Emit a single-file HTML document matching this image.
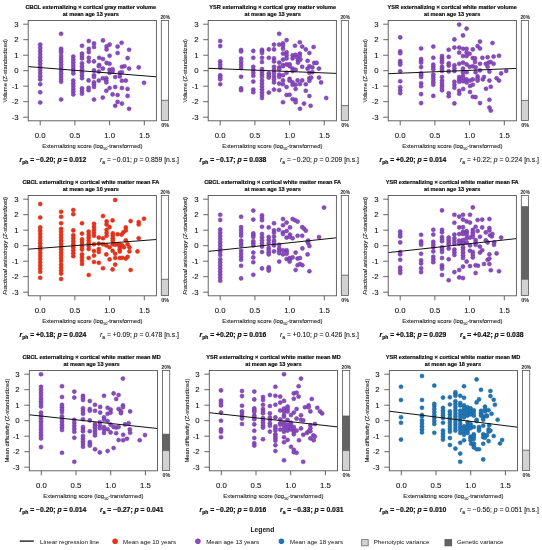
<!DOCTYPE html><html><head><meta charset="utf-8"><style>html,body{margin:0;padding:0;background:#fff;}svg{display:block;filter:blur(0.3px);} .t{stroke:#000;stroke-width:0.18px;} .k{stroke:#111;stroke-width:0.08px;}</style></head><body><svg width="542" height="550" viewBox="0 0 542 550" font-family="&quot;Liberation Sans&quot;, sans-serif">
<rect width="542" height="550" fill="#fff"/>
<g><text x="90.8" y="9.3" font-size="5.6" font-weight="bold" text-anchor="middle" fill="#111" class="t">CBCL externalizing × cortical gray matter volume</text><text x="90.8" y="16.1" font-size="5.6" font-weight="bold" text-anchor="middle" fill="#111" class="t">at mean age 13 years</text><g fill="#8a4bc0" stroke="#6a339a" stroke-width="0.45"><circle cx="40.2" cy="44.6" r="2.05"/><circle cx="40.2" cy="47.8" r="2.05"/><circle cx="40.2" cy="50.9" r="2.05"/><circle cx="40.2" cy="54.1" r="2.05"/><circle cx="40.2" cy="57.3" r="2.05"/><circle cx="40.2" cy="60.4" r="2.05"/><circle cx="40.2" cy="63.6" r="2.05"/><circle cx="40.2" cy="66.7" r="2.05"/><circle cx="40.2" cy="69.9" r="2.05"/><circle cx="40.2" cy="73.1" r="2.05"/><circle cx="40.2" cy="76.2" r="2.05"/><circle cx="40.2" cy="79.4" r="2.05"/><circle cx="40.2" cy="84.2" r="2.05"/><circle cx="40.2" cy="92.3" r="2.05"/><circle cx="40.2" cy="102.5" r="2.05"/><circle cx="61.1" cy="33.8" r="2.05"/><circle cx="61.1" cy="48.8" r="2.05"/><circle cx="61.1" cy="50.6" r="2.05"/><circle cx="61.1" cy="52.4" r="2.05"/><circle cx="61.1" cy="56.0" r="2.05"/><circle cx="61.1" cy="58.9" r="2.05"/><circle cx="61.1" cy="61.7" r="2.05"/><circle cx="61.1" cy="64.6" r="2.05"/><circle cx="61.1" cy="67.5" r="2.05"/><circle cx="61.1" cy="70.3" r="2.05"/><circle cx="61.1" cy="73.2" r="2.05"/><circle cx="61.1" cy="76.1" r="2.05"/><circle cx="61.1" cy="78.9" r="2.05"/><circle cx="61.1" cy="81.8" r="2.05"/><circle cx="61.1" cy="99.5" r="2.05"/><circle cx="73.3" cy="56.6" r="2.05"/><circle cx="73.3" cy="59.4" r="2.05"/><circle cx="73.3" cy="62.2" r="2.05"/><circle cx="73.3" cy="65.0" r="2.05"/><circle cx="73.3" cy="67.8" r="2.05"/><circle cx="73.3" cy="70.6" r="2.05"/><circle cx="73.3" cy="73.4" r="2.05"/><circle cx="73.3" cy="80.6" r="2.05"/><circle cx="73.3" cy="83.4" r="2.05"/><circle cx="73.3" cy="86.1" r="2.05"/><circle cx="73.3" cy="88.9" r="2.05"/><circle cx="73.3" cy="91.6" r="2.05"/><circle cx="73.3" cy="94.4" r="2.05"/><circle cx="82.0" cy="45.8" r="2.05"/><circle cx="82.0" cy="53.6" r="2.05"/><circle cx="82.0" cy="56.0" r="2.05"/><circle cx="82.0" cy="58.4" r="2.05"/><circle cx="82.0" cy="63.2" r="2.05"/><circle cx="82.0" cy="66.2" r="2.05"/><circle cx="82.0" cy="69.2" r="2.05"/><circle cx="82.0" cy="72.2" r="2.05"/><circle cx="82.0" cy="75.2" r="2.05"/><circle cx="82.0" cy="78.2" r="2.05"/><circle cx="82.0" cy="88.4" r="2.05"/><circle cx="82.0" cy="91.1" r="2.05"/><circle cx="82.0" cy="93.8" r="2.05"/><circle cx="88.8" cy="41.0" r="2.05"/><circle cx="88.8" cy="48.8" r="2.05"/><circle cx="88.8" cy="52.1" r="2.05"/><circle cx="88.8" cy="57.8" r="2.05"/><circle cx="88.8" cy="61.4" r="2.05"/><circle cx="88.6" cy="80.4" r="2.05"/><circle cx="88.6" cy="87.8" r="2.05"/><circle cx="88.6" cy="90.2" r="2.05"/><circle cx="94.0" cy="43.4" r="2.05"/><circle cx="94.0" cy="47.0" r="2.05"/><circle cx="94.0" cy="61.4" r="2.05"/><circle cx="94.0" cy="70.4" r="2.05"/><circle cx="94.0" cy="75.2" r="2.05"/><circle cx="94.0" cy="77.0" r="2.05"/><circle cx="94.0" cy="82.4" r="2.05"/><circle cx="94.0" cy="84.2" r="2.05"/><circle cx="94.0" cy="87.0" r="2.05"/><circle cx="94.0" cy="99.5" r="2.05"/><circle cx="99.2" cy="57.8" r="2.05"/><circle cx="99.2" cy="65.0" r="2.05"/><circle cx="98.8" cy="66.2" r="2.05"/><circle cx="98.8" cy="71.6" r="2.05"/><circle cx="98.8" cy="80.6" r="2.05"/><circle cx="103.0" cy="40.4" r="2.05"/><circle cx="103.0" cy="59.0" r="2.05"/><circle cx="102.8" cy="68.6" r="2.05"/><circle cx="102.8" cy="78.2" r="2.05"/><circle cx="102.8" cy="97.6" r="2.05"/><circle cx="106.6" cy="46.4" r="2.05"/><circle cx="106.6" cy="49.4" r="2.05"/><circle cx="106.6" cy="62.9" r="2.05"/><circle cx="106.3" cy="78.2" r="2.05"/><circle cx="106.3" cy="80.6" r="2.05"/><circle cx="106.3" cy="82.4" r="2.05"/><circle cx="106.3" cy="90.8" r="2.05"/><circle cx="109.6" cy="44.6" r="2.05"/><circle cx="109.6" cy="55.7" r="2.05"/><circle cx="109.6" cy="63.8" r="2.05"/><circle cx="109.6" cy="69.8" r="2.05"/><circle cx="109.6" cy="72.8" r="2.05"/><circle cx="109.6" cy="88.0" r="2.05"/><circle cx="112.6" cy="69.2" r="2.05"/><circle cx="112.6" cy="71.6" r="2.05"/><circle cx="112.6" cy="94.4" r="2.05"/><circle cx="115.2" cy="77.0" r="2.05"/><circle cx="115.2" cy="87.0" r="2.05"/><circle cx="115.2" cy="105.8" r="2.05"/><circle cx="117.6" cy="46.6" r="2.05"/><circle cx="117.6" cy="53.0" r="2.05"/><circle cx="117.6" cy="95.0" r="2.05"/><circle cx="117.6" cy="101.9" r="2.05"/><circle cx="119.8" cy="72.8" r="2.05"/><circle cx="119.8" cy="76.4" r="2.05"/><circle cx="121.6" cy="42.8" r="2.05"/><circle cx="121.9" cy="66.8" r="2.05"/><circle cx="121.9" cy="72.2" r="2.05"/><circle cx="121.9" cy="80.8" r="2.05"/><circle cx="121.9" cy="88.0" r="2.05"/><circle cx="121.9" cy="103.6" r="2.05"/><circle cx="124.5" cy="66.2" r="2.05"/><circle cx="125.8" cy="80.6" r="2.05"/><circle cx="127.6" cy="58.1" r="2.05"/><circle cx="127.6" cy="89.0" r="2.05"/><circle cx="127.6" cy="95.9" r="2.05"/><circle cx="129.1" cy="49.7" r="2.05"/><circle cx="129.1" cy="68.6" r="2.05"/><circle cx="129.1" cy="108.8" r="2.05"/><circle cx="138.7" cy="67.4" r="2.05"/><circle cx="144.0" cy="82.8" r="2.05"/></g><line x1="28.2" y1="66.6" x2="156.4" y2="76.8" stroke="#111" stroke-width="1"/><rect x="28.2" y="20.5" width="128.2" height="100.3" fill="none" stroke="#555" stroke-width="0.9"/><line x1="23.2" y1="117.2" x2="28.2" y2="117.2" stroke="#555" stroke-width="0.9"/><text x="18.6" y="119.8" font-size="7.8" text-anchor="end" fill="#111" class="k">-3</text><line x1="23.2" y1="101.7" x2="28.2" y2="101.7" stroke="#555" stroke-width="0.9"/><text x="18.6" y="104.2" font-size="7.8" text-anchor="end" fill="#111" class="k">-2</text><line x1="23.2" y1="86.2" x2="28.2" y2="86.2" stroke="#555" stroke-width="0.9"/><text x="18.6" y="88.8" font-size="7.8" text-anchor="end" fill="#111" class="k">-1</text><line x1="23.2" y1="70.7" x2="28.2" y2="70.7" stroke="#555" stroke-width="0.9"/><text x="18.6" y="73.2" font-size="7.8" text-anchor="end" fill="#111" class="k">0</text><line x1="23.2" y1="55.2" x2="28.2" y2="55.2" stroke="#555" stroke-width="0.9"/><text x="18.6" y="57.8" font-size="7.8" text-anchor="end" fill="#111" class="k">1</text><line x1="23.2" y1="39.7" x2="28.2" y2="39.7" stroke="#555" stroke-width="0.9"/><text x="18.6" y="42.2" font-size="7.8" text-anchor="end" fill="#111" class="k">2</text><line x1="23.2" y1="24.2" x2="28.2" y2="24.2" stroke="#555" stroke-width="0.9"/><text x="18.6" y="26.8" font-size="7.8" text-anchor="end" fill="#111" class="k">3</text><line x1="40.2" y1="120.8" x2="40.2" y2="125.3" stroke="#555" stroke-width="0.9"/><text x="40.2" y="137.5" font-size="7.8" text-anchor="middle" fill="#111" class="k">0.0</text><line x1="74.9" y1="120.8" x2="74.9" y2="125.3" stroke="#555" stroke-width="0.9"/><text x="74.9" y="137.5" font-size="7.8" text-anchor="middle" fill="#111" class="k">0.5</text><line x1="109.6" y1="120.8" x2="109.6" y2="125.3" stroke="#555" stroke-width="0.9"/><text x="109.6" y="137.5" font-size="7.8" text-anchor="middle" fill="#111" class="k">1.0</text><line x1="144.3" y1="120.8" x2="144.3" y2="125.3" stroke="#555" stroke-width="0.9"/><text x="144.3" y="137.5" font-size="7.8" text-anchor="middle" fill="#111" class="k">1.5</text><text x="92.3" y="148.2" font-size="5.85" text-anchor="middle" fill="#222" class="k">Externalizing score (log<tspan font-size="3.8" dy="1.3">10</tspan><tspan dy="-1.3">-transformed)</tspan></text><text transform="translate(7.4,70.7) rotate(-90)" font-size="5.8" text-anchor="middle" fill="#222" class="k">Volume (Z-standardized)</text><text x="19.6" y="161.9" font-size="6.8" font-weight="bold" fill="#111" class="t"><tspan font-style="italic">r</tspan><tspan font-size="5" dy="2.0">ph</tspan><tspan dy="-2.0"> = −0.20; </tspan><tspan font-style="italic">p</tspan><tspan> = 0.012</tspan></text><text x="100.0" y="161.9" font-size="6.8" font-weight="normal" fill="#111" class="k"><tspan font-style="italic">r</tspan><tspan font-size="5" dy="2.0">a</tspan><tspan dy="-2.0"> = −0.01; </tspan><tspan font-style="italic">p</tspan><tspan> = 0.859 [n.s.]</tspan></text><rect x="161.3" y="100.3" width="7.3" height="20.1" fill="#d2d2d2"/><line x1="161.3" y1="100.3" x2="168.6" y2="100.3" stroke="#555" stroke-width="0.8"/><rect x="161.3" y="20.4" width="7.3" height="100.0" fill="none" stroke="#555" stroke-width="0.8"/><text x="165.2" y="18.7" font-size="5.4" font-weight="bold" text-anchor="middle" fill="#222" textLength="9.6" lengthAdjust="spacingAndGlyphs">20%</text><text x="165.2" y="127.2" font-size="5.4" font-weight="bold" text-anchor="middle" fill="#222">0%</text></g>
<g><text x="272.7" y="9.3" font-size="5.6" font-weight="bold" text-anchor="middle" fill="#111" class="t">YSR externalizing × cortical gray matter volume</text><text x="272.7" y="16.1" font-size="5.6" font-weight="bold" text-anchor="middle" fill="#111" class="t">at mean age 13 years</text><g fill="#8a4bc0" stroke="#6a339a" stroke-width="0.45"><circle cx="220.2" cy="41.0" r="2.05"/><circle cx="220.2" cy="46.1" r="2.05"/><circle cx="220.2" cy="61.4" r="2.05"/><circle cx="220.2" cy="64.4" r="2.05"/><circle cx="220.2" cy="67.4" r="2.05"/><circle cx="241.1" cy="50.0" r="2.05"/><circle cx="241.1" cy="51.4" r="2.05"/><circle cx="241.1" cy="58.6" r="2.05"/><circle cx="241.1" cy="61.7" r="2.05"/><circle cx="241.1" cy="64.9" r="2.05"/><circle cx="241.1" cy="68.0" r="2.05"/><circle cx="253.3" cy="50.9" r="2.05"/><circle cx="253.3" cy="57.8" r="2.05"/><circle cx="262.0" cy="49.7" r="2.05"/><circle cx="262.0" cy="51.4" r="2.05"/><circle cx="262.0" cy="53.0" r="2.05"/><circle cx="262.0" cy="57.8" r="2.05"/><circle cx="262.0" cy="62.0" r="2.05"/><circle cx="268.8" cy="49.4" r="2.05"/><circle cx="268.8" cy="57.8" r="2.05"/><circle cx="274.0" cy="44.6" r="2.05"/><circle cx="274.0" cy="49.4" r="2.05"/><circle cx="274.0" cy="58.4" r="2.05"/><circle cx="274.0" cy="61.4" r="2.05"/><circle cx="279.2" cy="33.8" r="2.05"/><circle cx="279.2" cy="44.6" r="2.05"/><circle cx="279.2" cy="62.6" r="2.05"/><circle cx="283.0" cy="43.4" r="2.05"/><circle cx="283.0" cy="45.8" r="2.05"/><circle cx="283.0" cy="48.8" r="2.05"/><circle cx="283.0" cy="53.6" r="2.05"/><circle cx="283.0" cy="59.6" r="2.05"/><circle cx="283.0" cy="65.0" r="2.05"/><circle cx="286.6" cy="40.1" r="2.05"/><circle cx="286.6" cy="52.4" r="2.05"/><circle cx="286.6" cy="55.4" r="2.05"/><circle cx="286.6" cy="58.4" r="2.05"/><circle cx="286.6" cy="64.4" r="2.05"/><circle cx="289.6" cy="64.4" r="2.05"/><circle cx="292.6" cy="55.4" r="2.05"/><circle cx="292.6" cy="58.4" r="2.05"/><circle cx="295.0" cy="45.8" r="2.05"/><circle cx="295.6" cy="54.8" r="2.05"/><circle cx="296.8" cy="57.2" r="2.05"/><circle cx="298.0" cy="60.8" r="2.05"/><circle cx="298.0" cy="62.6" r="2.05"/><circle cx="299.8" cy="42.2" r="2.05"/><circle cx="299.8" cy="53.6" r="2.05"/><circle cx="299.8" cy="56.0" r="2.05"/><circle cx="300.4" cy="59.6" r="2.05"/><circle cx="302.2" cy="46.6" r="2.05"/><circle cx="305.8" cy="49.4" r="2.05"/><circle cx="307.6" cy="60.8" r="2.05"/><circle cx="309.4" cy="53.0" r="2.05"/><circle cx="313.6" cy="47.0" r="2.05"/><circle cx="314.2" cy="62.9" r="2.05"/><circle cx="316.6" cy="62.9" r="2.05"/><circle cx="220.2" cy="75.2" r="2.05"/><circle cx="220.2" cy="77.2" r="2.05"/><circle cx="220.2" cy="79.2" r="2.05"/><circle cx="220.2" cy="84.2" r="2.05"/><circle cx="241.1" cy="76.8" r="2.05"/><circle cx="241.1" cy="88.4" r="2.05"/><circle cx="241.1" cy="90.2" r="2.05"/><circle cx="253.3" cy="66.8" r="2.05"/><circle cx="253.3" cy="69.8" r="2.05"/><circle cx="253.3" cy="72.8" r="2.05"/><circle cx="253.3" cy="75.8" r="2.05"/><circle cx="253.3" cy="81.6" r="2.05"/><circle cx="253.3" cy="89.6" r="2.05"/><circle cx="253.3" cy="92.3" r="2.05"/><circle cx="262.0" cy="69.0" r="2.05"/><circle cx="262.0" cy="71.7" r="2.05"/><circle cx="262.0" cy="74.3" r="2.05"/><circle cx="262.0" cy="77.0" r="2.05"/><circle cx="262.0" cy="80.6" r="2.05"/><circle cx="262.0" cy="83.5" r="2.05"/><circle cx="262.0" cy="86.4" r="2.05"/><circle cx="262.0" cy="89.3" r="2.05"/><circle cx="262.0" cy="92.2" r="2.05"/><circle cx="262.0" cy="95.1" r="2.05"/><circle cx="262.0" cy="98.0" r="2.05"/><circle cx="268.8" cy="73.4" r="2.05"/><circle cx="268.8" cy="75.5" r="2.05"/><circle cx="268.8" cy="77.6" r="2.05"/><circle cx="268.8" cy="92.6" r="2.05"/><circle cx="274.0" cy="66.8" r="2.05"/><circle cx="274.0" cy="69.9" r="2.05"/><circle cx="274.0" cy="73.0" r="2.05"/><circle cx="274.0" cy="76.2" r="2.05"/><circle cx="274.0" cy="79.3" r="2.05"/><circle cx="274.0" cy="82.4" r="2.05"/><circle cx="274.0" cy="89.6" r="2.05"/><circle cx="279.2" cy="67.4" r="2.05"/><circle cx="279.2" cy="69.2" r="2.05"/><circle cx="279.2" cy="74.6" r="2.05"/><circle cx="279.2" cy="77.0" r="2.05"/><circle cx="279.2" cy="83.6" r="2.05"/><circle cx="279.2" cy="90.2" r="2.05"/><circle cx="283.0" cy="66.2" r="2.05"/><circle cx="283.0" cy="75.2" r="2.05"/><circle cx="283.0" cy="80.4" r="2.05"/><circle cx="283.0" cy="84.2" r="2.05"/><circle cx="283.0" cy="102.2" r="2.05"/><circle cx="286.6" cy="72.8" r="2.05"/><circle cx="286.6" cy="87.0" r="2.05"/><circle cx="286.6" cy="95.0" r="2.05"/><circle cx="289.6" cy="66.2" r="2.05"/><circle cx="289.6" cy="78.8" r="2.05"/><circle cx="289.6" cy="80.6" r="2.05"/><circle cx="289.6" cy="94.7" r="2.05"/><circle cx="292.6" cy="68.6" r="2.05"/><circle cx="292.6" cy="71.0" r="2.05"/><circle cx="292.6" cy="82.4" r="2.05"/><circle cx="292.6" cy="84.8" r="2.05"/><circle cx="292.6" cy="99.2" r="2.05"/><circle cx="295.6" cy="69.8" r="2.05"/><circle cx="295.6" cy="84.8" r="2.05"/><circle cx="295.6" cy="89.0" r="2.05"/><circle cx="295.6" cy="99.8" r="2.05"/><circle cx="295.6" cy="102.2" r="2.05"/><circle cx="297.6" cy="80.4" r="2.05"/><circle cx="300.0" cy="84.0" r="2.05"/><circle cx="300.0" cy="108.8" r="2.05"/><circle cx="302.2" cy="66.8" r="2.05"/><circle cx="302.2" cy="80.4" r="2.05"/><circle cx="304.0" cy="103.6" r="2.05"/><circle cx="305.8" cy="84.2" r="2.05"/><circle cx="305.8" cy="90.8" r="2.05"/><circle cx="307.6" cy="68.6" r="2.05"/><circle cx="309.4" cy="66.2" r="2.05"/><circle cx="309.4" cy="72.8" r="2.05"/><circle cx="309.4" cy="78.2" r="2.05"/><circle cx="309.4" cy="80.8" r="2.05"/><circle cx="309.4" cy="96.0" r="2.05"/><circle cx="310.6" cy="105.8" r="2.05"/><circle cx="311.2" cy="77.6" r="2.05"/><circle cx="312.4" cy="67.4" r="2.05"/><circle cx="312.4" cy="72.2" r="2.05"/><circle cx="319.0" cy="68.6" r="2.05"/><circle cx="319.0" cy="77.6" r="2.05"/><circle cx="321.1" cy="82.4" r="2.05"/><circle cx="326.2" cy="98.0" r="2.05"/></g><line x1="208.2" y1="68.3" x2="336.4" y2="73.4" stroke="#111" stroke-width="1"/><rect x="208.2" y="20.5" width="128.2" height="100.3" fill="none" stroke="#555" stroke-width="0.9"/><line x1="203.2" y1="117.2" x2="208.2" y2="117.2" stroke="#555" stroke-width="0.9"/><text x="198.6" y="119.8" font-size="7.8" text-anchor="end" fill="#111" class="k">-3</text><line x1="203.2" y1="101.7" x2="208.2" y2="101.7" stroke="#555" stroke-width="0.9"/><text x="198.6" y="104.2" font-size="7.8" text-anchor="end" fill="#111" class="k">-2</text><line x1="203.2" y1="86.2" x2="208.2" y2="86.2" stroke="#555" stroke-width="0.9"/><text x="198.6" y="88.8" font-size="7.8" text-anchor="end" fill="#111" class="k">-1</text><line x1="203.2" y1="70.7" x2="208.2" y2="70.7" stroke="#555" stroke-width="0.9"/><text x="198.6" y="73.2" font-size="7.8" text-anchor="end" fill="#111" class="k">0</text><line x1="203.2" y1="55.2" x2="208.2" y2="55.2" stroke="#555" stroke-width="0.9"/><text x="198.6" y="57.8" font-size="7.8" text-anchor="end" fill="#111" class="k">1</text><line x1="203.2" y1="39.7" x2="208.2" y2="39.7" stroke="#555" stroke-width="0.9"/><text x="198.6" y="42.2" font-size="7.8" text-anchor="end" fill="#111" class="k">2</text><line x1="203.2" y1="24.2" x2="208.2" y2="24.2" stroke="#555" stroke-width="0.9"/><text x="198.6" y="26.8" font-size="7.8" text-anchor="end" fill="#111" class="k">3</text><line x1="220.2" y1="120.8" x2="220.2" y2="125.3" stroke="#555" stroke-width="0.9"/><text x="220.2" y="137.5" font-size="7.8" text-anchor="middle" fill="#111" class="k">0.0</text><line x1="254.9" y1="120.8" x2="254.9" y2="125.3" stroke="#555" stroke-width="0.9"/><text x="254.9" y="137.5" font-size="7.8" text-anchor="middle" fill="#111" class="k">0.5</text><line x1="289.6" y1="120.8" x2="289.6" y2="125.3" stroke="#555" stroke-width="0.9"/><text x="289.6" y="137.5" font-size="7.8" text-anchor="middle" fill="#111" class="k">1.0</text><line x1="324.3" y1="120.8" x2="324.3" y2="125.3" stroke="#555" stroke-width="0.9"/><text x="324.3" y="137.5" font-size="7.8" text-anchor="middle" fill="#111" class="k">1.5</text><text x="272.3" y="148.2" font-size="5.85" text-anchor="middle" fill="#222" class="k">Externalizing score (log<tspan font-size="3.8" dy="1.3">10</tspan><tspan dy="-1.3">-transformed)</tspan></text><text transform="translate(187.4,70.7) rotate(-90)" font-size="5.8" text-anchor="middle" fill="#222" class="k">Volume (Z-standardized)</text><text x="199.6" y="161.9" font-size="6.8" font-weight="bold" fill="#111" class="t"><tspan font-style="italic">r</tspan><tspan font-size="5" dy="2.0">ph</tspan><tspan dy="-2.0"> = −0.17; </tspan><tspan font-style="italic">p</tspan><tspan> = 0.038</tspan></text><text x="280.0" y="161.9" font-size="6.8" font-weight="normal" fill="#111" class="k"><tspan font-style="italic">r</tspan><tspan font-size="5" dy="2.0">a</tspan><tspan dy="-2.0"> = −0.20; </tspan><tspan font-style="italic">p</tspan><tspan> = 0.209 [n.s.]</tspan></text><rect x="341.3" y="105.6" width="7.3" height="14.8" fill="#d2d2d2"/><line x1="341.3" y1="105.6" x2="348.6" y2="105.6" stroke="#555" stroke-width="0.8"/><rect x="341.3" y="20.4" width="7.3" height="100.0" fill="none" stroke="#555" stroke-width="0.8"/><text x="345.2" y="18.7" font-size="5.4" font-weight="bold" text-anchor="middle" fill="#222" textLength="9.6" lengthAdjust="spacingAndGlyphs">20%</text><text x="345.2" y="127.2" font-size="5.4" font-weight="bold" text-anchor="middle" fill="#222">0%</text></g>
<g><text x="452.2" y="9.3" font-size="5.6" font-weight="bold" text-anchor="middle" fill="#111" class="t">YSR externalizing × cortical white matter volume</text><text x="452.2" y="16.1" font-size="5.6" font-weight="bold" text-anchor="middle" fill="#111" class="t">at mean age 13 years</text><g fill="#8a4bc0" stroke="#6a339a" stroke-width="0.45"><circle cx="400.2" cy="37.4" r="2.05"/><circle cx="400.2" cy="51.4" r="2.05"/><circle cx="400.2" cy="53.3" r="2.05"/><circle cx="400.2" cy="61.0" r="2.05"/><circle cx="400.2" cy="62.8" r="2.05"/><circle cx="400.2" cy="64.6" r="2.05"/><circle cx="400.2" cy="71.2" r="2.05"/><circle cx="400.2" cy="81.2" r="2.05"/><circle cx="400.2" cy="87.2" r="2.05"/><circle cx="400.2" cy="90.2" r="2.05"/><circle cx="400.2" cy="93.2" r="2.05"/><circle cx="421.1" cy="48.5" r="2.05"/><circle cx="421.1" cy="59.0" r="2.05"/><circle cx="421.1" cy="60.8" r="2.05"/><circle cx="421.1" cy="62.6" r="2.05"/><circle cx="421.1" cy="67.1" r="2.05"/><circle cx="421.1" cy="73.4" r="2.05"/><circle cx="421.1" cy="75.2" r="2.05"/><circle cx="421.1" cy="77.0" r="2.05"/><circle cx="421.1" cy="83.2" r="2.05"/><circle cx="421.1" cy="86.3" r="2.05"/><circle cx="421.1" cy="94.1" r="2.05"/><circle cx="421.1" cy="103.1" r="2.05"/><circle cx="433.3" cy="46.6" r="2.05"/><circle cx="433.3" cy="57.8" r="2.05"/><circle cx="433.3" cy="64.6" r="2.05"/><circle cx="433.3" cy="66.9" r="2.05"/><circle cx="433.3" cy="69.2" r="2.05"/><circle cx="433.3" cy="74.6" r="2.05"/><circle cx="433.3" cy="77.1" r="2.05"/><circle cx="433.3" cy="79.7" r="2.05"/><circle cx="433.3" cy="82.2" r="2.05"/><circle cx="433.3" cy="84.8" r="2.05"/><circle cx="433.3" cy="95.9" r="2.05"/><circle cx="442.0" cy="56.0" r="2.05"/><circle cx="442.0" cy="58.2" r="2.05"/><circle cx="442.0" cy="60.4" r="2.05"/><circle cx="442.0" cy="62.6" r="2.05"/><circle cx="442.0" cy="66.8" r="2.05"/><circle cx="442.0" cy="68.9" r="2.05"/><circle cx="442.0" cy="71.0" r="2.05"/><circle cx="442.0" cy="77.0" r="2.05"/><circle cx="442.0" cy="80.6" r="2.05"/><circle cx="442.0" cy="83.0" r="2.05"/><circle cx="442.0" cy="85.4" r="2.05"/><circle cx="442.0" cy="87.8" r="2.05"/><circle cx="442.0" cy="90.2" r="2.05"/><circle cx="448.7" cy="49.7" r="2.05"/><circle cx="448.7" cy="56.9" r="2.05"/><circle cx="448.7" cy="63.4" r="2.05"/><circle cx="448.7" cy="65.6" r="2.05"/><circle cx="448.7" cy="71.4" r="2.05"/><circle cx="448.7" cy="93.2" r="2.05"/><circle cx="448.7" cy="96.2" r="2.05"/><circle cx="454.4" cy="39.4" r="2.05"/><circle cx="454.4" cy="47.6" r="2.05"/><circle cx="454.4" cy="65.3" r="2.05"/><circle cx="454.4" cy="68.2" r="2.05"/><circle cx="454.4" cy="71.0" r="2.05"/><circle cx="454.4" cy="81.8" r="2.05"/><circle cx="454.4" cy="84.8" r="2.05"/><circle cx="454.4" cy="87.8" r="2.05"/><circle cx="454.4" cy="103.4" r="2.05"/><circle cx="459.2" cy="24.6" r="2.05"/><circle cx="459.2" cy="47.6" r="2.05"/><circle cx="459.2" cy="52.6" r="2.05"/><circle cx="459.2" cy="63.8" r="2.05"/><circle cx="459.2" cy="77.0" r="2.05"/><circle cx="459.2" cy="79.4" r="2.05"/><circle cx="459.2" cy="81.8" r="2.05"/><circle cx="459.2" cy="90.8" r="2.05"/><circle cx="459.2" cy="93.8" r="2.05"/><circle cx="463.0" cy="35.4" r="2.05"/><circle cx="463.0" cy="48.8" r="2.05"/><circle cx="463.0" cy="56.0" r="2.05"/><circle cx="463.0" cy="62.6" r="2.05"/><circle cx="463.0" cy="68.6" r="2.05"/><circle cx="463.0" cy="72.2" r="2.05"/><circle cx="463.0" cy="75.8" r="2.05"/><circle cx="463.0" cy="78.5" r="2.05"/><circle cx="463.0" cy="81.2" r="2.05"/><circle cx="463.2" cy="89.0" r="2.05"/><circle cx="466.6" cy="28.6" r="2.05"/><circle cx="466.6" cy="48.8" r="2.05"/><circle cx="466.6" cy="52.4" r="2.05"/><circle cx="466.6" cy="56.0" r="2.05"/><circle cx="466.6" cy="64.4" r="2.05"/><circle cx="466.6" cy="72.2" r="2.05"/><circle cx="466.6" cy="79.4" r="2.05"/><circle cx="466.6" cy="82.4" r="2.05"/><circle cx="469.6" cy="53.8" r="2.05"/><circle cx="469.6" cy="66.8" r="2.05"/><circle cx="470.0" cy="80.6" r="2.05"/><circle cx="470.0" cy="86.0" r="2.05"/><circle cx="470.0" cy="92.0" r="2.05"/><circle cx="472.8" cy="49.4" r="2.05"/><circle cx="472.8" cy="58.1" r="2.05"/><circle cx="472.8" cy="66.2" r="2.05"/><circle cx="472.8" cy="79.4" r="2.05"/><circle cx="472.8" cy="84.8" r="2.05"/><circle cx="472.8" cy="96.8" r="2.05"/><circle cx="475.0" cy="58.4" r="2.05"/><circle cx="475.0" cy="62.0" r="2.05"/><circle cx="475.6" cy="67.4" r="2.05"/><circle cx="475.6" cy="72.2" r="2.05"/><circle cx="475.6" cy="97.1" r="2.05"/><circle cx="477.6" cy="46.1" r="2.05"/><circle cx="477.6" cy="76.4" r="2.05"/><circle cx="477.6" cy="78.5" r="2.05"/><circle cx="477.6" cy="80.6" r="2.05"/><circle cx="480.0" cy="41.6" r="2.05"/><circle cx="480.0" cy="48.5" r="2.05"/><circle cx="480.0" cy="63.8" r="2.05"/><circle cx="480.0" cy="70.4" r="2.05"/><circle cx="480.0" cy="103.1" r="2.05"/><circle cx="482.4" cy="57.8" r="2.05"/><circle cx="482.8" cy="79.4" r="2.05"/><circle cx="484.0" cy="77.0" r="2.05"/><circle cx="485.8" cy="63.8" r="2.05"/><circle cx="486.0" cy="88.7" r="2.05"/><circle cx="487.6" cy="57.2" r="2.05"/><circle cx="487.6" cy="66.8" r="2.05"/><circle cx="488.8" cy="62.6" r="2.05"/><circle cx="489.4" cy="71.6" r="2.05"/><circle cx="489.4" cy="80.6" r="2.05"/><circle cx="489.4" cy="99.8" r="2.05"/><circle cx="489.4" cy="107.6" r="2.05"/><circle cx="490.6" cy="62.0" r="2.05"/><circle cx="490.8" cy="86.8" r="2.05"/><circle cx="490.8" cy="110.6" r="2.05"/><circle cx="492.5" cy="43.0" r="2.05"/><circle cx="493.6" cy="56.6" r="2.05"/><circle cx="493.6" cy="63.8" r="2.05"/><circle cx="496.6" cy="78.2" r="2.05"/><circle cx="499.0" cy="80.6" r="2.05"/><circle cx="499.0" cy="55.7" r="2.05"/><circle cx="501.1" cy="73.4" r="2.05"/><circle cx="506.2" cy="71.0" r="2.05"/></g><line x1="388.2" y1="73.7" x2="516.4" y2="68.4" stroke="#111" stroke-width="1"/><rect x="388.2" y="20.5" width="128.2" height="100.3" fill="none" stroke="#555" stroke-width="0.9"/><line x1="383.2" y1="117.2" x2="388.2" y2="117.2" stroke="#555" stroke-width="0.9"/><text x="378.6" y="119.8" font-size="7.8" text-anchor="end" fill="#111" class="k">-3</text><line x1="383.2" y1="101.7" x2="388.2" y2="101.7" stroke="#555" stroke-width="0.9"/><text x="378.6" y="104.2" font-size="7.8" text-anchor="end" fill="#111" class="k">-2</text><line x1="383.2" y1="86.2" x2="388.2" y2="86.2" stroke="#555" stroke-width="0.9"/><text x="378.6" y="88.8" font-size="7.8" text-anchor="end" fill="#111" class="k">-1</text><line x1="383.2" y1="70.7" x2="388.2" y2="70.7" stroke="#555" stroke-width="0.9"/><text x="378.6" y="73.2" font-size="7.8" text-anchor="end" fill="#111" class="k">0</text><line x1="383.2" y1="55.2" x2="388.2" y2="55.2" stroke="#555" stroke-width="0.9"/><text x="378.6" y="57.8" font-size="7.8" text-anchor="end" fill="#111" class="k">1</text><line x1="383.2" y1="39.7" x2="388.2" y2="39.7" stroke="#555" stroke-width="0.9"/><text x="378.6" y="42.2" font-size="7.8" text-anchor="end" fill="#111" class="k">2</text><line x1="383.2" y1="24.2" x2="388.2" y2="24.2" stroke="#555" stroke-width="0.9"/><text x="378.6" y="26.8" font-size="7.8" text-anchor="end" fill="#111" class="k">3</text><line x1="400.2" y1="120.8" x2="400.2" y2="125.3" stroke="#555" stroke-width="0.9"/><text x="400.2" y="137.5" font-size="7.8" text-anchor="middle" fill="#111" class="k">0.0</text><line x1="434.9" y1="120.8" x2="434.9" y2="125.3" stroke="#555" stroke-width="0.9"/><text x="434.9" y="137.5" font-size="7.8" text-anchor="middle" fill="#111" class="k">0.5</text><line x1="469.6" y1="120.8" x2="469.6" y2="125.3" stroke="#555" stroke-width="0.9"/><text x="469.6" y="137.5" font-size="7.8" text-anchor="middle" fill="#111" class="k">1.0</text><line x1="504.3" y1="120.8" x2="504.3" y2="125.3" stroke="#555" stroke-width="0.9"/><text x="504.3" y="137.5" font-size="7.8" text-anchor="middle" fill="#111" class="k">1.5</text><text x="452.3" y="148.2" font-size="5.85" text-anchor="middle" fill="#222" class="k">Externalizing score (log<tspan font-size="3.8" dy="1.3">10</tspan><tspan dy="-1.3">-transformed)</tspan></text><text transform="translate(367.4,70.7) rotate(-90)" font-size="5.8" text-anchor="middle" fill="#222" class="k">Volume (Z-standardized)</text><text x="379.6" y="161.9" font-size="6.8" font-weight="bold" fill="#111" class="t"><tspan font-style="italic">r</tspan><tspan font-size="5" dy="2.0">ph</tspan><tspan dy="-2.0"> = +0.20; </tspan><tspan font-style="italic">p</tspan><tspan> = 0.014</tspan></text><text x="460.0" y="161.9" font-size="6.8" font-weight="normal" fill="#111" class="k"><tspan font-style="italic">r</tspan><tspan font-size="5" dy="2.0">a</tspan><tspan dy="-2.0"> = +0.22; </tspan><tspan font-style="italic">p</tspan><tspan> = 0.224 [n.s.]</tspan></text><rect x="521.3" y="100.4" width="7.3" height="20.0" fill="#d2d2d2"/><line x1="521.3" y1="100.4" x2="528.6" y2="100.4" stroke="#555" stroke-width="0.8"/><rect x="521.3" y="20.4" width="7.3" height="100.0" fill="none" stroke="#555" stroke-width="0.8"/><text x="525.2" y="18.7" font-size="5.4" font-weight="bold" text-anchor="middle" fill="#222" textLength="9.6" lengthAdjust="spacingAndGlyphs">20%</text><text x="525.2" y="127.2" font-size="5.4" font-weight="bold" text-anchor="middle" fill="#222">0%</text></g>
<g><text x="90.8" y="184.3" font-size="5.6" font-weight="bold" text-anchor="middle" fill="#111" class="t">CBCL externalizing × cortical white matter mean FA</text><text x="90.8" y="191.1" font-size="5.6" font-weight="bold" text-anchor="middle" fill="#111" class="t">at mean age 10 years</text><g fill="#e9321a" stroke="#d22a12" stroke-width="0.45"><circle cx="40.2" cy="204.0" r="2.05"/><circle cx="40.2" cy="217.5" r="2.05"/><circle cx="40.2" cy="227.4" r="2.05"/><circle cx="40.2" cy="230.6" r="2.05"/><circle cx="40.2" cy="233.7" r="2.05"/><circle cx="40.2" cy="236.9" r="2.05"/><circle cx="40.2" cy="240.1" r="2.05"/><circle cx="40.2" cy="243.3" r="2.05"/><circle cx="40.2" cy="246.4" r="2.05"/><circle cx="40.2" cy="249.6" r="2.05"/><circle cx="40.2" cy="252.8" r="2.05"/><circle cx="40.2" cy="255.9" r="2.05"/><circle cx="40.2" cy="259.1" r="2.05"/><circle cx="40.2" cy="262.3" r="2.05"/><circle cx="40.2" cy="265.5" r="2.05"/><circle cx="40.2" cy="268.6" r="2.05"/><circle cx="40.2" cy="271.8" r="2.05"/><circle cx="40.2" cy="277.8" r="2.05"/><circle cx="61.1" cy="211.8" r="2.05"/><circle cx="61.1" cy="216.8" r="2.05"/><circle cx="61.1" cy="223.2" r="2.05"/><circle cx="61.1" cy="228.8" r="2.05"/><circle cx="61.1" cy="231.7" r="2.05"/><circle cx="61.1" cy="234.7" r="2.05"/><circle cx="61.1" cy="237.6" r="2.05"/><circle cx="61.1" cy="240.5" r="2.05"/><circle cx="61.1" cy="243.4" r="2.05"/><circle cx="61.1" cy="246.4" r="2.05"/><circle cx="61.1" cy="249.3" r="2.05"/><circle cx="61.1" cy="252.2" r="2.05"/><circle cx="61.1" cy="255.1" r="2.05"/><circle cx="61.1" cy="258.1" r="2.05"/><circle cx="61.1" cy="261.0" r="2.05"/><circle cx="61.1" cy="264.6" r="2.05"/><circle cx="61.1" cy="267.6" r="2.05"/><circle cx="61.1" cy="270.6" r="2.05"/><circle cx="61.1" cy="273.6" r="2.05"/><circle cx="61.1" cy="279.0" r="2.05"/><circle cx="73.3" cy="210.0" r="2.05"/><circle cx="73.3" cy="214.2" r="2.05"/><circle cx="73.3" cy="230.4" r="2.05"/><circle cx="73.3" cy="235.2" r="2.05"/><circle cx="73.3" cy="238.2" r="2.05"/><circle cx="73.3" cy="241.2" r="2.05"/><circle cx="73.3" cy="244.2" r="2.05"/><circle cx="73.3" cy="247.2" r="2.05"/><circle cx="73.3" cy="250.2" r="2.05"/><circle cx="73.3" cy="253.2" r="2.05"/><circle cx="73.3" cy="256.2" r="2.05"/><circle cx="82.0" cy="223.2" r="2.05"/><circle cx="82.0" cy="233.6" r="2.05"/><circle cx="82.0" cy="239.4" r="2.05"/><circle cx="82.0" cy="241.9" r="2.05"/><circle cx="82.0" cy="244.5" r="2.05"/><circle cx="82.0" cy="247.1" r="2.05"/><circle cx="82.0" cy="249.6" r="2.05"/><circle cx="82.0" cy="254.4" r="2.05"/><circle cx="82.0" cy="257.6" r="2.05"/><circle cx="82.0" cy="260.8" r="2.05"/><circle cx="82.0" cy="264.0" r="2.05"/><circle cx="88.7" cy="231.6" r="2.05"/><circle cx="88.7" cy="234.5" r="2.05"/><circle cx="88.7" cy="237.4" r="2.05"/><circle cx="88.7" cy="240.3" r="2.05"/><circle cx="88.7" cy="243.2" r="2.05"/><circle cx="88.7" cy="246.1" r="2.05"/><circle cx="88.7" cy="249.0" r="2.05"/><circle cx="88.7" cy="258.0" r="2.05"/><circle cx="88.7" cy="275.0" r="2.05"/><circle cx="94.0" cy="223.8" r="2.05"/><circle cx="94.0" cy="226.8" r="2.05"/><circle cx="94.0" cy="229.8" r="2.05"/><circle cx="94.0" cy="232.8" r="2.05"/><circle cx="94.0" cy="235.8" r="2.05"/><circle cx="94.0" cy="244.2" r="2.05"/><circle cx="94.0" cy="251.0" r="2.05"/><circle cx="94.0" cy="255.6" r="2.05"/><circle cx="94.0" cy="262.0" r="2.05"/><circle cx="98.8" cy="237.6" r="2.05"/><circle cx="98.8" cy="243.6" r="2.05"/><circle cx="98.8" cy="249.0" r="2.05"/><circle cx="98.8" cy="252.0" r="2.05"/><circle cx="98.8" cy="262.8" r="2.05"/><circle cx="103.0" cy="216.0" r="2.05"/><circle cx="103.0" cy="238.2" r="2.05"/><circle cx="103.0" cy="244.2" r="2.05"/><circle cx="103.0" cy="268.2" r="2.05"/><circle cx="106.6" cy="221.4" r="2.05"/><circle cx="106.6" cy="224.4" r="2.05"/><circle cx="106.6" cy="229.8" r="2.05"/><circle cx="106.6" cy="232.8" r="2.05"/><circle cx="106.6" cy="235.8" r="2.05"/><circle cx="106.3" cy="245.4" r="2.05"/><circle cx="106.3" cy="254.4" r="2.05"/><circle cx="109.6" cy="227.1" r="2.05"/><circle cx="109.6" cy="247.2" r="2.05"/><circle cx="109.6" cy="259.4" r="2.05"/><circle cx="112.6" cy="220.4" r="2.05"/><circle cx="112.8" cy="233.4" r="2.05"/><circle cx="112.8" cy="235.8" r="2.05"/><circle cx="112.8" cy="238.2" r="2.05"/><circle cx="112.8" cy="240.6" r="2.05"/><circle cx="112.8" cy="244.2" r="2.05"/><circle cx="112.6" cy="250.8" r="2.05"/><circle cx="112.6" cy="269.4" r="2.05"/><circle cx="115.2" cy="200.0" r="2.05"/><circle cx="115.2" cy="244.8" r="2.05"/><circle cx="115.2" cy="253.8" r="2.05"/><circle cx="115.2" cy="258.0" r="2.05"/><circle cx="115.2" cy="264.6" r="2.05"/><circle cx="117.6" cy="234.3" r="2.05"/><circle cx="117.6" cy="244.2" r="2.05"/><circle cx="119.8" cy="244.8" r="2.05"/><circle cx="119.8" cy="247.0" r="2.05"/><circle cx="119.8" cy="249.2" r="2.05"/><circle cx="119.8" cy="251.4" r="2.05"/><circle cx="119.8" cy="258.0" r="2.05"/><circle cx="121.6" cy="234.6" r="2.05"/><circle cx="122.2" cy="245.4" r="2.05"/><circle cx="122.2" cy="257.8" r="2.05"/><circle cx="123.4" cy="232.2" r="2.05"/><circle cx="124.0" cy="247.2" r="2.05"/><circle cx="125.8" cy="227.4" r="2.05"/><circle cx="125.8" cy="230.4" r="2.05"/><circle cx="125.8" cy="240.3" r="2.05"/><circle cx="125.8" cy="258.6" r="2.05"/><circle cx="127.6" cy="244.2" r="2.05"/><circle cx="127.6" cy="256.8" r="2.05"/><circle cx="129.4" cy="247.2" r="2.05"/><circle cx="129.4" cy="251.4" r="2.05"/><circle cx="130.6" cy="221.1" r="2.05"/><circle cx="130.6" cy="270.0" r="2.05"/><circle cx="137.5" cy="251.4" r="2.05"/><circle cx="138.7" cy="222.0" r="2.05"/><circle cx="138.7" cy="224.4" r="2.05"/><circle cx="138.7" cy="238.2" r="2.05"/><circle cx="144.0" cy="218.7" r="2.05"/></g><line x1="28.2" y1="249.2" x2="156.4" y2="239.5" stroke="#111" stroke-width="1"/><rect x="28.2" y="195.5" width="128.2" height="100.3" fill="none" stroke="#555" stroke-width="0.9"/><line x1="23.2" y1="292.2" x2="28.2" y2="292.2" stroke="#555" stroke-width="0.9"/><text x="18.6" y="294.8" font-size="7.8" text-anchor="end" fill="#111" class="k">-3</text><line x1="23.2" y1="276.7" x2="28.2" y2="276.7" stroke="#555" stroke-width="0.9"/><text x="18.6" y="279.2" font-size="7.8" text-anchor="end" fill="#111" class="k">-2</text><line x1="23.2" y1="261.2" x2="28.2" y2="261.2" stroke="#555" stroke-width="0.9"/><text x="18.6" y="263.8" font-size="7.8" text-anchor="end" fill="#111" class="k">-1</text><line x1="23.2" y1="245.7" x2="28.2" y2="245.7" stroke="#555" stroke-width="0.9"/><text x="18.6" y="248.2" font-size="7.8" text-anchor="end" fill="#111" class="k">0</text><line x1="23.2" y1="230.2" x2="28.2" y2="230.2" stroke="#555" stroke-width="0.9"/><text x="18.6" y="232.8" font-size="7.8" text-anchor="end" fill="#111" class="k">1</text><line x1="23.2" y1="214.7" x2="28.2" y2="214.7" stroke="#555" stroke-width="0.9"/><text x="18.6" y="217.2" font-size="7.8" text-anchor="end" fill="#111" class="k">2</text><line x1="23.2" y1="199.2" x2="28.2" y2="199.2" stroke="#555" stroke-width="0.9"/><text x="18.6" y="201.8" font-size="7.8" text-anchor="end" fill="#111" class="k">3</text><line x1="40.2" y1="295.8" x2="40.2" y2="300.3" stroke="#555" stroke-width="0.9"/><text x="40.2" y="312.5" font-size="7.8" text-anchor="middle" fill="#111" class="k">0.0</text><line x1="74.9" y1="295.8" x2="74.9" y2="300.3" stroke="#555" stroke-width="0.9"/><text x="74.9" y="312.5" font-size="7.8" text-anchor="middle" fill="#111" class="k">0.5</text><line x1="109.6" y1="295.8" x2="109.6" y2="300.3" stroke="#555" stroke-width="0.9"/><text x="109.6" y="312.5" font-size="7.8" text-anchor="middle" fill="#111" class="k">1.0</text><line x1="144.3" y1="295.8" x2="144.3" y2="300.3" stroke="#555" stroke-width="0.9"/><text x="144.3" y="312.5" font-size="7.8" text-anchor="middle" fill="#111" class="k">1.5</text><text x="92.3" y="323.2" font-size="5.85" text-anchor="middle" fill="#222" class="k">Externalizing score (log<tspan font-size="3.8" dy="1.3">10</tspan><tspan dy="-1.3">-transformed)</tspan></text><text transform="translate(7.4,245.7) rotate(-90)" font-size="5.8" text-anchor="middle" fill="#222" class="k" font-style="italic">Fractional anisotropy (Z-standardized)</text><text x="19.6" y="336.9" font-size="6.8" font-weight="bold" fill="#111" class="t"><tspan font-style="italic">r</tspan><tspan font-size="5" dy="2.0">ph</tspan><tspan dy="-2.0"> = +0.18; </tspan><tspan font-style="italic">p</tspan><tspan> = 0.024</tspan></text><text x="100.0" y="336.9" font-size="6.8" font-weight="normal" fill="#111" class="k"><tspan font-style="italic">r</tspan><tspan font-size="5" dy="2.0">a</tspan><tspan dy="-2.0"> = +0.09; </tspan><tspan font-style="italic">p</tspan><tspan> = 0.478 [n.s.]</tspan></text><rect x="161.3" y="279.3" width="7.3" height="16.1" fill="#d2d2d2"/><line x1="161.3" y1="279.3" x2="168.6" y2="279.3" stroke="#555" stroke-width="0.8"/><rect x="161.3" y="195.4" width="7.3" height="100.0" fill="none" stroke="#555" stroke-width="0.8"/><text x="165.2" y="193.7" font-size="5.4" font-weight="bold" text-anchor="middle" fill="#222" textLength="9.6" lengthAdjust="spacingAndGlyphs">20%</text><text x="165.2" y="302.2" font-size="5.4" font-weight="bold" text-anchor="middle" fill="#222">0%</text></g>
<g><text x="272.7" y="184.3" font-size="5.6" font-weight="bold" text-anchor="middle" fill="#111" class="t">CBCL externalizing × cortical white matter mean FA</text><text x="272.7" y="191.1" font-size="5.6" font-weight="bold" text-anchor="middle" fill="#111" class="t">at mean age 13 years</text><g fill="#8a4bc0" stroke="#6a339a" stroke-width="0.45"><circle cx="220.2" cy="214.8" r="2.05"/><circle cx="220.2" cy="220.0" r="2.05"/><circle cx="220.2" cy="229.5" r="2.05"/><circle cx="220.2" cy="232.7" r="2.05"/><circle cx="220.2" cy="235.9" r="2.05"/><circle cx="220.2" cy="239.1" r="2.05"/><circle cx="220.2" cy="242.2" r="2.05"/><circle cx="220.2" cy="245.4" r="2.05"/><circle cx="220.2" cy="248.6" r="2.05"/><circle cx="220.2" cy="251.8" r="2.05"/><circle cx="220.2" cy="255.0" r="2.05"/><circle cx="220.2" cy="259.2" r="2.05"/><circle cx="220.2" cy="262.3" r="2.05"/><circle cx="220.2" cy="265.4" r="2.05"/><circle cx="220.2" cy="268.5" r="2.05"/><circle cx="220.2" cy="271.5" r="2.05"/><circle cx="220.2" cy="274.6" r="2.05"/><circle cx="220.2" cy="277.7" r="2.05"/><circle cx="220.2" cy="280.8" r="2.05"/><circle cx="241.1" cy="216.8" r="2.05"/><circle cx="241.1" cy="227.1" r="2.05"/><circle cx="241.1" cy="230.0" r="2.05"/><circle cx="241.1" cy="232.9" r="2.05"/><circle cx="241.1" cy="235.8" r="2.05"/><circle cx="241.1" cy="240.6" r="2.05"/><circle cx="241.1" cy="243.0" r="2.05"/><circle cx="241.1" cy="245.4" r="2.05"/><circle cx="241.1" cy="250.8" r="2.05"/><circle cx="241.1" cy="253.8" r="2.05"/><circle cx="241.1" cy="256.8" r="2.05"/><circle cx="241.1" cy="259.8" r="2.05"/><circle cx="241.1" cy="265.8" r="2.05"/><circle cx="241.1" cy="278.4" r="2.05"/><circle cx="253.3" cy="210.6" r="2.05"/><circle cx="253.3" cy="219.6" r="2.05"/><circle cx="253.3" cy="233.4" r="2.05"/><circle cx="253.3" cy="235.2" r="2.05"/><circle cx="253.3" cy="237.0" r="2.05"/><circle cx="253.3" cy="241.2" r="2.05"/><circle cx="253.3" cy="243.3" r="2.05"/><circle cx="253.3" cy="245.4" r="2.05"/><circle cx="253.3" cy="252.6" r="2.05"/><circle cx="253.3" cy="257.4" r="2.05"/><circle cx="253.3" cy="262.2" r="2.05"/><circle cx="253.3" cy="274.8" r="2.05"/><circle cx="262.0" cy="215.4" r="2.05"/><circle cx="262.0" cy="217.8" r="2.05"/><circle cx="262.0" cy="220.2" r="2.05"/><circle cx="262.0" cy="226.8" r="2.05"/><circle cx="262.0" cy="234.0" r="2.05"/><circle cx="262.0" cy="237.2" r="2.05"/><circle cx="262.0" cy="240.3" r="2.05"/><circle cx="262.0" cy="243.4" r="2.05"/><circle cx="262.0" cy="246.6" r="2.05"/><circle cx="262.0" cy="252.0" r="2.05"/><circle cx="262.0" cy="268.4" r="2.05"/><circle cx="268.7" cy="227.4" r="2.05"/><circle cx="268.7" cy="237.0" r="2.05"/><circle cx="268.7" cy="240.0" r="2.05"/><circle cx="268.7" cy="243.0" r="2.05"/><circle cx="268.7" cy="247.8" r="2.05"/><circle cx="268.7" cy="250.0" r="2.05"/><circle cx="268.7" cy="252.2" r="2.05"/><circle cx="268.7" cy="254.4" r="2.05"/><circle cx="268.7" cy="267.3" r="2.05"/><circle cx="268.7" cy="269.0" r="2.05"/><circle cx="268.7" cy="270.6" r="2.05"/><circle cx="274.0" cy="223.2" r="2.05"/><circle cx="274.0" cy="230.4" r="2.05"/><circle cx="274.0" cy="232.8" r="2.05"/><circle cx="274.0" cy="236.7" r="2.05"/><circle cx="274.0" cy="240.6" r="2.05"/><circle cx="274.0" cy="243.0" r="2.05"/><circle cx="274.0" cy="245.4" r="2.05"/><circle cx="274.0" cy="251.4" r="2.05"/><circle cx="278.8" cy="229.8" r="2.05"/><circle cx="279.2" cy="244.8" r="2.05"/><circle cx="279.2" cy="248.4" r="2.05"/><circle cx="279.2" cy="250.8" r="2.05"/><circle cx="279.2" cy="253.2" r="2.05"/><circle cx="279.2" cy="261.6" r="2.05"/><circle cx="283.0" cy="219.0" r="2.05"/><circle cx="283.0" cy="225.2" r="2.05"/><circle cx="283.0" cy="232.2" r="2.05"/><circle cx="283.0" cy="234.0" r="2.05"/><circle cx="283.0" cy="250.2" r="2.05"/><circle cx="283.0" cy="254.4" r="2.05"/><circle cx="286.6" cy="222.6" r="2.05"/><circle cx="286.6" cy="231.0" r="2.05"/><circle cx="286.6" cy="237.6" r="2.05"/><circle cx="286.6" cy="250.2" r="2.05"/><circle cx="286.6" cy="252.0" r="2.05"/><circle cx="286.6" cy="253.8" r="2.05"/><circle cx="286.6" cy="259.0" r="2.05"/><circle cx="290.0" cy="227.4" r="2.05"/><circle cx="290.0" cy="234.6" r="2.05"/><circle cx="290.0" cy="237.0" r="2.05"/><circle cx="289.6" cy="258.0" r="2.05"/><circle cx="289.6" cy="259.8" r="2.05"/><circle cx="289.6" cy="261.6" r="2.05"/><circle cx="292.6" cy="219.0" r="2.05"/><circle cx="292.6" cy="238.2" r="2.05"/><circle cx="292.6" cy="257.4" r="2.05"/><circle cx="295.0" cy="220.2" r="2.05"/><circle cx="295.6" cy="252.6" r="2.05"/><circle cx="295.6" cy="270.0" r="2.05"/><circle cx="297.6" cy="221.6" r="2.05"/><circle cx="297.6" cy="235.8" r="2.05"/><circle cx="297.6" cy="258.6" r="2.05"/><circle cx="297.6" cy="265.2" r="2.05"/><circle cx="300.0" cy="258.0" r="2.05"/><circle cx="300.0" cy="264.0" r="2.05"/><circle cx="302.2" cy="227.1" r="2.05"/><circle cx="302.2" cy="235.8" r="2.05"/><circle cx="302.4" cy="248.4" r="2.05"/><circle cx="302.4" cy="265.2" r="2.05"/><circle cx="304.0" cy="228.6" r="2.05"/><circle cx="305.8" cy="230.7" r="2.05"/><circle cx="307.6" cy="241.8" r="2.05"/><circle cx="307.6" cy="254.4" r="2.05"/><circle cx="308.2" cy="240.6" r="2.05"/><circle cx="308.2" cy="243.0" r="2.05"/><circle cx="309.4" cy="246.0" r="2.05"/><circle cx="309.4" cy="271.2" r="2.05"/><circle cx="319.0" cy="237.0" r="2.05"/><circle cx="324.0" cy="207.6" r="2.05"/></g><line x1="208.2" y1="251.4" x2="336.4" y2="237.8" stroke="#111" stroke-width="1"/><rect x="208.2" y="195.5" width="128.2" height="100.3" fill="none" stroke="#555" stroke-width="0.9"/><line x1="203.2" y1="292.2" x2="208.2" y2="292.2" stroke="#555" stroke-width="0.9"/><text x="198.6" y="294.8" font-size="7.8" text-anchor="end" fill="#111" class="k">-3</text><line x1="203.2" y1="276.7" x2="208.2" y2="276.7" stroke="#555" stroke-width="0.9"/><text x="198.6" y="279.2" font-size="7.8" text-anchor="end" fill="#111" class="k">-2</text><line x1="203.2" y1="261.2" x2="208.2" y2="261.2" stroke="#555" stroke-width="0.9"/><text x="198.6" y="263.8" font-size="7.8" text-anchor="end" fill="#111" class="k">-1</text><line x1="203.2" y1="245.7" x2="208.2" y2="245.7" stroke="#555" stroke-width="0.9"/><text x="198.6" y="248.2" font-size="7.8" text-anchor="end" fill="#111" class="k">0</text><line x1="203.2" y1="230.2" x2="208.2" y2="230.2" stroke="#555" stroke-width="0.9"/><text x="198.6" y="232.8" font-size="7.8" text-anchor="end" fill="#111" class="k">1</text><line x1="203.2" y1="214.7" x2="208.2" y2="214.7" stroke="#555" stroke-width="0.9"/><text x="198.6" y="217.2" font-size="7.8" text-anchor="end" fill="#111" class="k">2</text><line x1="203.2" y1="199.2" x2="208.2" y2="199.2" stroke="#555" stroke-width="0.9"/><text x="198.6" y="201.8" font-size="7.8" text-anchor="end" fill="#111" class="k">3</text><line x1="220.2" y1="295.8" x2="220.2" y2="300.3" stroke="#555" stroke-width="0.9"/><text x="220.2" y="312.5" font-size="7.8" text-anchor="middle" fill="#111" class="k">0.0</text><line x1="254.9" y1="295.8" x2="254.9" y2="300.3" stroke="#555" stroke-width="0.9"/><text x="254.9" y="312.5" font-size="7.8" text-anchor="middle" fill="#111" class="k">0.5</text><line x1="289.6" y1="295.8" x2="289.6" y2="300.3" stroke="#555" stroke-width="0.9"/><text x="289.6" y="312.5" font-size="7.8" text-anchor="middle" fill="#111" class="k">1.0</text><line x1="324.3" y1="295.8" x2="324.3" y2="300.3" stroke="#555" stroke-width="0.9"/><text x="324.3" y="312.5" font-size="7.8" text-anchor="middle" fill="#111" class="k">1.5</text><text x="272.3" y="323.2" font-size="5.85" text-anchor="middle" fill="#222" class="k">Externalizing score (log<tspan font-size="3.8" dy="1.3">10</tspan><tspan dy="-1.3">-transformed)</tspan></text><text transform="translate(187.4,245.7) rotate(-90)" font-size="5.8" text-anchor="middle" fill="#222" class="k" font-style="italic">Fractional anisotropy (Z-standardized)</text><text x="199.6" y="336.9" font-size="6.8" font-weight="bold" fill="#111" class="t"><tspan font-style="italic">r</tspan><tspan font-size="5" dy="2.0">ph</tspan><tspan dy="-2.0"> = +0.20; </tspan><tspan font-style="italic">p</tspan><tspan> = 0.016</tspan></text><text x="280.0" y="336.9" font-size="6.8" font-weight="normal" fill="#111" class="k"><tspan font-style="italic">r</tspan><tspan font-size="5" dy="2.0">a</tspan><tspan dy="-2.0"> = +0.10; </tspan><tspan font-style="italic">p</tspan><tspan> = 0.426 [n.s.]</tspan></text><rect x="341.3" y="275.2" width="7.3" height="20.2" fill="#d2d2d2"/><line x1="341.3" y1="275.2" x2="348.6" y2="275.2" stroke="#555" stroke-width="0.8"/><rect x="341.3" y="195.4" width="7.3" height="100.0" fill="none" stroke="#555" stroke-width="0.8"/><text x="345.2" y="193.7" font-size="5.4" font-weight="bold" text-anchor="middle" fill="#222" textLength="9.6" lengthAdjust="spacingAndGlyphs">20%</text><text x="345.2" y="302.2" font-size="5.4" font-weight="bold" text-anchor="middle" fill="#222">0%</text></g>
<g><text x="452.2" y="184.3" font-size="5.6" font-weight="bold" text-anchor="middle" fill="#111" class="t">YSR externalizing × cortical white matter mean FA</text><text x="452.2" y="191.1" font-size="5.6" font-weight="bold" text-anchor="middle" fill="#111" class="t">at mean age 13 years</text><g fill="#8a4bc0" stroke="#6a339a" stroke-width="0.45"><circle cx="400.2" cy="231.6" r="2.05"/><circle cx="400.2" cy="234.0" r="2.05"/><circle cx="400.2" cy="236.4" r="2.05"/><circle cx="400.2" cy="242.4" r="2.05"/><circle cx="400.2" cy="252.0" r="2.05"/><circle cx="400.2" cy="254.4" r="2.05"/><circle cx="400.2" cy="259.8" r="2.05"/><circle cx="400.2" cy="267.6" r="2.05"/><circle cx="400.2" cy="270.3" r="2.05"/><circle cx="400.2" cy="273.0" r="2.05"/><circle cx="421.1" cy="234.8" r="2.05"/><circle cx="421.1" cy="241.2" r="2.05"/><circle cx="421.1" cy="243.0" r="2.05"/><circle cx="421.1" cy="244.8" r="2.05"/><circle cx="421.1" cy="253.8" r="2.05"/><circle cx="421.1" cy="260.4" r="2.05"/><circle cx="421.1" cy="263.4" r="2.05"/><circle cx="421.1" cy="268.2" r="2.05"/><circle cx="421.1" cy="272.1" r="2.05"/><circle cx="433.3" cy="229.8" r="2.05"/><circle cx="433.3" cy="234.6" r="2.05"/><circle cx="433.3" cy="241.8" r="2.05"/><circle cx="433.3" cy="244.5" r="2.05"/><circle cx="433.3" cy="247.2" r="2.05"/><circle cx="433.3" cy="251.4" r="2.05"/><circle cx="433.3" cy="256.8" r="2.05"/><circle cx="433.3" cy="259.5" r="2.05"/><circle cx="433.3" cy="262.2" r="2.05"/><circle cx="442.0" cy="210.4" r="2.05"/><circle cx="442.0" cy="229.8" r="2.05"/><circle cx="442.0" cy="232.2" r="2.05"/><circle cx="442.0" cy="237.0" r="2.05"/><circle cx="442.0" cy="239.1" r="2.05"/><circle cx="442.0" cy="241.2" r="2.05"/><circle cx="442.0" cy="247.2" r="2.05"/><circle cx="442.0" cy="249.6" r="2.05"/><circle cx="442.0" cy="252.0" r="2.05"/><circle cx="442.0" cy="258.0" r="2.05"/><circle cx="442.0" cy="265.2" r="2.05"/><circle cx="442.0" cy="267.0" r="2.05"/><circle cx="442.0" cy="268.8" r="2.05"/><circle cx="442.0" cy="275.0" r="2.05"/><circle cx="448.7" cy="237.6" r="2.05"/><circle cx="448.7" cy="239.8" r="2.05"/><circle cx="448.7" cy="242.0" r="2.05"/><circle cx="448.7" cy="244.2" r="2.05"/><circle cx="448.7" cy="248.6" r="2.05"/><circle cx="448.7" cy="259.2" r="2.05"/><circle cx="448.7" cy="280.2" r="2.05"/><circle cx="454.4" cy="214.8" r="2.05"/><circle cx="454.4" cy="222.8" r="2.05"/><circle cx="454.4" cy="234.6" r="2.05"/><circle cx="454.4" cy="238.2" r="2.05"/><circle cx="454.4" cy="240.9" r="2.05"/><circle cx="454.4" cy="243.6" r="2.05"/><circle cx="454.4" cy="249.6" r="2.05"/><circle cx="454.4" cy="252.3" r="2.05"/><circle cx="454.4" cy="255.0" r="2.05"/><circle cx="454.4" cy="272.1" r="2.05"/><circle cx="459.2" cy="216.6" r="2.05"/><circle cx="459.2" cy="227.4" r="2.05"/><circle cx="459.2" cy="234.0" r="2.05"/><circle cx="459.2" cy="240.6" r="2.05"/><circle cx="459.2" cy="243.6" r="2.05"/><circle cx="459.2" cy="270.0" r="2.05"/><circle cx="459.2" cy="277.4" r="2.05"/><circle cx="463.0" cy="214.8" r="2.05"/><circle cx="463.0" cy="219.6" r="2.05"/><circle cx="463.0" cy="227.1" r="2.05"/><circle cx="463.0" cy="231.6" r="2.05"/><circle cx="463.0" cy="234.0" r="2.05"/><circle cx="463.0" cy="240.0" r="2.05"/><circle cx="463.0" cy="241.8" r="2.05"/><circle cx="463.0" cy="243.6" r="2.05"/><circle cx="463.0" cy="247.2" r="2.05"/><circle cx="463.0" cy="249.9" r="2.05"/><circle cx="463.0" cy="252.6" r="2.05"/><circle cx="463.0" cy="255.3" r="2.05"/><circle cx="463.0" cy="258.0" r="2.05"/><circle cx="463.0" cy="266.6" r="2.05"/><circle cx="463.0" cy="278.1" r="2.05"/><circle cx="466.6" cy="221.4" r="2.05"/><circle cx="466.6" cy="231.0" r="2.05"/><circle cx="466.6" cy="232.8" r="2.05"/><circle cx="466.6" cy="234.6" r="2.05"/><circle cx="466.6" cy="238.2" r="2.05"/><circle cx="466.6" cy="242.4" r="2.05"/><circle cx="466.6" cy="261.6" r="2.05"/><circle cx="470.0" cy="214.8" r="2.05"/><circle cx="470.0" cy="222.6" r="2.05"/><circle cx="470.0" cy="237.6" r="2.05"/><circle cx="470.0" cy="245.4" r="2.05"/><circle cx="470.0" cy="250.8" r="2.05"/><circle cx="470.0" cy="266.1" r="2.05"/><circle cx="472.8" cy="207.4" r="2.05"/><circle cx="472.8" cy="229.8" r="2.05"/><circle cx="472.8" cy="232.2" r="2.05"/><circle cx="472.8" cy="234.6" r="2.05"/><circle cx="472.8" cy="237.0" r="2.05"/><circle cx="472.8" cy="252.0" r="2.05"/><circle cx="472.8" cy="254.7" r="2.05"/><circle cx="472.8" cy="257.4" r="2.05"/><circle cx="475.6" cy="226.8" r="2.05"/><circle cx="475.6" cy="240.0" r="2.05"/><circle cx="475.6" cy="242.4" r="2.05"/><circle cx="475.6" cy="244.8" r="2.05"/><circle cx="475.6" cy="265.2" r="2.05"/><circle cx="475.6" cy="273.0" r="2.05"/><circle cx="478.0" cy="265.8" r="2.05"/><circle cx="477.6" cy="220.0" r="2.05"/><circle cx="477.6" cy="231.0" r="2.05"/><circle cx="480.0" cy="236.7" r="2.05"/><circle cx="479.8" cy="246.6" r="2.05"/><circle cx="480.0" cy="252.6" r="2.05"/><circle cx="482.2" cy="219.6" r="2.05"/><circle cx="482.2" cy="227.4" r="2.05"/><circle cx="482.2" cy="250.2" r="2.05"/><circle cx="484.0" cy="264.0" r="2.05"/><circle cx="485.8" cy="232.4" r="2.05"/><circle cx="485.8" cy="240.3" r="2.05"/><circle cx="487.6" cy="242.4" r="2.05"/><circle cx="487.6" cy="259.8" r="2.05"/><circle cx="489.4" cy="219.0" r="2.05"/><circle cx="489.4" cy="228.0" r="2.05"/><circle cx="489.4" cy="230.4" r="2.05"/><circle cx="489.4" cy="254.2" r="2.05"/><circle cx="489.4" cy="258.6" r="2.05"/><circle cx="489.4" cy="264.0" r="2.05"/><circle cx="490.0" cy="235.2" r="2.05"/><circle cx="490.8" cy="270.2" r="2.05"/><circle cx="491.8" cy="236.4" r="2.05"/><circle cx="492.4" cy="234.0" r="2.05"/><circle cx="494.2" cy="242.4" r="2.05"/><circle cx="494.0" cy="244.8" r="2.05"/><circle cx="496.6" cy="253.4" r="2.05"/><circle cx="499.0" cy="271.2" r="2.05"/><circle cx="501.1" cy="237.6" r="2.05"/></g><line x1="388.2" y1="252.6" x2="516.4" y2="238.6" stroke="#111" stroke-width="1"/><rect x="388.2" y="195.5" width="128.2" height="100.3" fill="none" stroke="#555" stroke-width="0.9"/><line x1="383.2" y1="292.2" x2="388.2" y2="292.2" stroke="#555" stroke-width="0.9"/><text x="378.6" y="294.8" font-size="7.8" text-anchor="end" fill="#111" class="k">-3</text><line x1="383.2" y1="276.7" x2="388.2" y2="276.7" stroke="#555" stroke-width="0.9"/><text x="378.6" y="279.2" font-size="7.8" text-anchor="end" fill="#111" class="k">-2</text><line x1="383.2" y1="261.2" x2="388.2" y2="261.2" stroke="#555" stroke-width="0.9"/><text x="378.6" y="263.8" font-size="7.8" text-anchor="end" fill="#111" class="k">-1</text><line x1="383.2" y1="245.7" x2="388.2" y2="245.7" stroke="#555" stroke-width="0.9"/><text x="378.6" y="248.2" font-size="7.8" text-anchor="end" fill="#111" class="k">0</text><line x1="383.2" y1="230.2" x2="388.2" y2="230.2" stroke="#555" stroke-width="0.9"/><text x="378.6" y="232.8" font-size="7.8" text-anchor="end" fill="#111" class="k">1</text><line x1="383.2" y1="214.7" x2="388.2" y2="214.7" stroke="#555" stroke-width="0.9"/><text x="378.6" y="217.2" font-size="7.8" text-anchor="end" fill="#111" class="k">2</text><line x1="383.2" y1="199.2" x2="388.2" y2="199.2" stroke="#555" stroke-width="0.9"/><text x="378.6" y="201.8" font-size="7.8" text-anchor="end" fill="#111" class="k">3</text><line x1="400.2" y1="295.8" x2="400.2" y2="300.3" stroke="#555" stroke-width="0.9"/><text x="400.2" y="312.5" font-size="7.8" text-anchor="middle" fill="#111" class="k">0.0</text><line x1="434.9" y1="295.8" x2="434.9" y2="300.3" stroke="#555" stroke-width="0.9"/><text x="434.9" y="312.5" font-size="7.8" text-anchor="middle" fill="#111" class="k">0.5</text><line x1="469.6" y1="295.8" x2="469.6" y2="300.3" stroke="#555" stroke-width="0.9"/><text x="469.6" y="312.5" font-size="7.8" text-anchor="middle" fill="#111" class="k">1.0</text><line x1="504.3" y1="295.8" x2="504.3" y2="300.3" stroke="#555" stroke-width="0.9"/><text x="504.3" y="312.5" font-size="7.8" text-anchor="middle" fill="#111" class="k">1.5</text><text x="452.3" y="323.2" font-size="5.85" text-anchor="middle" fill="#222" class="k">Externalizing score (log<tspan font-size="3.8" dy="1.3">10</tspan><tspan dy="-1.3">-transformed)</tspan></text><text transform="translate(367.4,245.7) rotate(-90)" font-size="5.8" text-anchor="middle" fill="#222" class="k" font-style="italic">Fractional anisotropy (Z-standardized)</text><text x="379.6" y="336.9" font-size="6.8" font-weight="bold" fill="#111" class="t"><tspan font-style="italic">r</tspan><tspan font-size="5" dy="2.0">ph</tspan><tspan dy="-2.0"> = +0.18; </tspan><tspan font-style="italic">p</tspan><tspan> = 0.029</tspan></text><text x="460.0" y="336.9" font-size="6.8" font-weight="bold" fill="#111" class="t"><tspan font-style="italic">r</tspan><tspan font-size="5" dy="2.0">a</tspan><tspan dy="-2.0"> = +0.42; </tspan><tspan font-style="italic">p</tspan><tspan> = 0.038</tspan></text><rect x="521.3" y="206.7" width="7.3" height="72.6" fill="#636363"/><rect x="521.3" y="279.3" width="7.3" height="16.1" fill="#d2d2d2"/><line x1="521.3" y1="206.7" x2="528.6" y2="206.7" stroke="#555" stroke-width="0.8"/><line x1="521.3" y1="279.3" x2="528.6" y2="279.3" stroke="#555" stroke-width="0.8"/><rect x="521.3" y="195.4" width="7.3" height="100.0" fill="none" stroke="#555" stroke-width="0.8"/><text x="525.2" y="193.7" font-size="5.4" font-weight="bold" text-anchor="middle" fill="#222" textLength="9.6" lengthAdjust="spacingAndGlyphs">20%</text><text x="525.2" y="302.2" font-size="5.4" font-weight="bold" text-anchor="middle" fill="#222">0%</text></g>
<g><text x="91.6" y="359.3" font-size="5.6" font-weight="bold" text-anchor="middle" fill="#111" class="t">CBCL externalizing × cortical white matter mean MD</text><text x="91.6" y="366.1" font-size="5.6" font-weight="bold" text-anchor="middle" fill="#111" class="t">at mean age 13 years</text><g fill="#8a4bc0" stroke="#6a339a" stroke-width="0.45"><circle cx="41.0" cy="374.2" r="2.05"/><circle cx="41.0" cy="386.8" r="2.05"/><circle cx="41.0" cy="389.8" r="2.05"/><circle cx="41.0" cy="392.8" r="2.05"/><circle cx="41.0" cy="395.8" r="2.05"/><circle cx="41.0" cy="398.8" r="2.05"/><circle cx="41.0" cy="401.4" r="2.05"/><circle cx="41.0" cy="404.0" r="2.05"/><circle cx="41.0" cy="406.6" r="2.05"/><circle cx="41.0" cy="412.6" r="2.05"/><circle cx="41.0" cy="415.5" r="2.05"/><circle cx="41.0" cy="418.3" r="2.05"/><circle cx="41.0" cy="421.2" r="2.05"/><circle cx="41.0" cy="424.1" r="2.05"/><circle cx="41.0" cy="426.9" r="2.05"/><circle cx="41.0" cy="429.8" r="2.05"/><circle cx="41.0" cy="432.7" r="2.05"/><circle cx="41.0" cy="435.5" r="2.05"/><circle cx="41.0" cy="438.4" r="2.05"/><circle cx="41.0" cy="447.1" r="2.05"/><circle cx="62.0" cy="386.2" r="2.05"/><circle cx="62.0" cy="397.0" r="2.05"/><circle cx="62.0" cy="404.8" r="2.05"/><circle cx="62.0" cy="407.2" r="2.05"/><circle cx="62.0" cy="409.6" r="2.05"/><circle cx="62.0" cy="412.0" r="2.05"/><circle cx="62.0" cy="416.2" r="2.05"/><circle cx="62.0" cy="419.0" r="2.05"/><circle cx="62.0" cy="421.7" r="2.05"/><circle cx="62.0" cy="424.5" r="2.05"/><circle cx="62.0" cy="427.2" r="2.05"/><circle cx="62.0" cy="430.0" r="2.05"/><circle cx="62.0" cy="452.8" r="2.05"/><circle cx="74.3" cy="391.6" r="2.05"/><circle cx="74.3" cy="397.6" r="2.05"/><circle cx="74.3" cy="419.8" r="2.05"/><circle cx="74.3" cy="422.8" r="2.05"/><circle cx="74.3" cy="425.8" r="2.05"/><circle cx="74.3" cy="428.8" r="2.05"/><circle cx="74.3" cy="431.8" r="2.05"/><circle cx="74.3" cy="437.8" r="2.05"/><circle cx="74.3" cy="461.8" r="2.05"/><circle cx="83.0" cy="395.8" r="2.05"/><circle cx="83.0" cy="397.9" r="2.05"/><circle cx="83.0" cy="400.0" r="2.05"/><circle cx="83.0" cy="408.4" r="2.05"/><circle cx="83.0" cy="411.1" r="2.05"/><circle cx="83.0" cy="413.8" r="2.05"/><circle cx="83.0" cy="419.2" r="2.05"/><circle cx="83.0" cy="427.0" r="2.05"/><circle cx="83.0" cy="429.1" r="2.05"/><circle cx="83.0" cy="431.2" r="2.05"/><circle cx="83.0" cy="436.0" r="2.05"/><circle cx="83.0" cy="438.7" r="2.05"/><circle cx="83.0" cy="441.4" r="2.05"/><circle cx="83.0" cy="444.1" r="2.05"/><circle cx="83.0" cy="446.8" r="2.05"/><circle cx="89.8" cy="401.0" r="2.05"/><circle cx="89.8" cy="409.0" r="2.05"/><circle cx="89.8" cy="410.8" r="2.05"/><circle cx="89.8" cy="420.4" r="2.05"/><circle cx="89.8" cy="431.2" r="2.05"/><circle cx="89.8" cy="442.0" r="2.05"/><circle cx="89.8" cy="443.8" r="2.05"/><circle cx="89.8" cy="445.6" r="2.05"/><circle cx="95.0" cy="404.8" r="2.05"/><circle cx="95.0" cy="410.8" r="2.05"/><circle cx="95.0" cy="424.0" r="2.05"/><circle cx="95.0" cy="425.8" r="2.05"/><circle cx="95.0" cy="427.6" r="2.05"/><circle cx="95.0" cy="430.6" r="2.05"/><circle cx="95.0" cy="433.0" r="2.05"/><circle cx="95.0" cy="435.4" r="2.05"/><circle cx="95.0" cy="449.2" r="2.05"/><circle cx="100.2" cy="406.9" r="2.05"/><circle cx="100.2" cy="412.6" r="2.05"/><circle cx="99.8" cy="422.2" r="2.05"/><circle cx="99.8" cy="425.2" r="2.05"/><circle cx="99.8" cy="428.2" r="2.05"/><circle cx="99.8" cy="452.4" r="2.05"/><circle cx="104.0" cy="395.8" r="2.05"/><circle cx="104.0" cy="417.4" r="2.05"/><circle cx="104.0" cy="419.8" r="2.05"/><circle cx="104.0" cy="427.0" r="2.05"/><circle cx="104.0" cy="430.0" r="2.05"/><circle cx="104.0" cy="433.0" r="2.05"/><circle cx="107.6" cy="407.8" r="2.05"/><circle cx="107.6" cy="413.8" r="2.05"/><circle cx="107.6" cy="421.0" r="2.05"/><circle cx="107.6" cy="429.2" r="2.05"/><circle cx="107.6" cy="451.0" r="2.05"/><circle cx="110.6" cy="409.6" r="2.05"/><circle cx="110.6" cy="412.6" r="2.05"/><circle cx="110.6" cy="424.6" r="2.05"/><circle cx="110.6" cy="432.4" r="2.05"/><circle cx="113.6" cy="393.4" r="2.05"/><circle cx="113.6" cy="427.0" r="2.05"/><circle cx="113.6" cy="448.0" r="2.05"/><circle cx="116.2" cy="399.0" r="2.05"/><circle cx="116.2" cy="427.6" r="2.05"/><circle cx="116.2" cy="433.2" r="2.05"/><circle cx="118.6" cy="395.0" r="2.05"/><circle cx="118.6" cy="409.0" r="2.05"/><circle cx="118.6" cy="427.0" r="2.05"/><circle cx="118.6" cy="440.0" r="2.05"/><circle cx="121.0" cy="411.4" r="2.05"/><circle cx="121.0" cy="413.2" r="2.05"/><circle cx="122.9" cy="378.6" r="2.05"/><circle cx="122.9" cy="405.4" r="2.05"/><circle cx="122.9" cy="407.2" r="2.05"/><circle cx="123.2" cy="434.8" r="2.05"/><circle cx="123.2" cy="440.2" r="2.05"/><circle cx="125.0" cy="424.4" r="2.05"/><circle cx="127.0" cy="438.7" r="2.05"/><circle cx="128.6" cy="423.2" r="2.05"/><circle cx="129.8" cy="429.4" r="2.05"/><circle cx="130.1" cy="411.4" r="2.05"/><circle cx="130.1" cy="432.8" r="2.05"/><circle cx="139.7" cy="440.2" r="2.05"/><circle cx="145.0" cy="435.1" r="2.05"/></g><line x1="29.3" y1="414.8" x2="157.5" y2="428.5" stroke="#111" stroke-width="1"/><rect x="29.3" y="370.5" width="128.2" height="100.3" fill="none" stroke="#555" stroke-width="0.9"/><line x1="24.3" y1="467.2" x2="29.3" y2="467.2" stroke="#555" stroke-width="0.9"/><text x="19.7" y="469.8" font-size="7.8" text-anchor="end" fill="#111" class="k">-3</text><line x1="24.3" y1="451.7" x2="29.3" y2="451.7" stroke="#555" stroke-width="0.9"/><text x="19.7" y="454.2" font-size="7.8" text-anchor="end" fill="#111" class="k">-2</text><line x1="24.3" y1="436.2" x2="29.3" y2="436.2" stroke="#555" stroke-width="0.9"/><text x="19.7" y="438.8" font-size="7.8" text-anchor="end" fill="#111" class="k">-1</text><line x1="24.3" y1="420.7" x2="29.3" y2="420.7" stroke="#555" stroke-width="0.9"/><text x="19.7" y="423.2" font-size="7.8" text-anchor="end" fill="#111" class="k">0</text><line x1="24.3" y1="405.2" x2="29.3" y2="405.2" stroke="#555" stroke-width="0.9"/><text x="19.7" y="407.8" font-size="7.8" text-anchor="end" fill="#111" class="k">1</text><line x1="24.3" y1="389.7" x2="29.3" y2="389.7" stroke="#555" stroke-width="0.9"/><text x="19.7" y="392.2" font-size="7.8" text-anchor="end" fill="#111" class="k">2</text><line x1="24.3" y1="374.2" x2="29.3" y2="374.2" stroke="#555" stroke-width="0.9"/><text x="19.7" y="376.8" font-size="7.8" text-anchor="end" fill="#111" class="k">3</text><line x1="41.3" y1="470.8" x2="41.3" y2="475.3" stroke="#555" stroke-width="0.9"/><text x="41.3" y="487.5" font-size="7.8" text-anchor="middle" fill="#111" class="k">0.0</text><line x1="76.0" y1="470.8" x2="76.0" y2="475.3" stroke="#555" stroke-width="0.9"/><text x="76.0" y="487.5" font-size="7.8" text-anchor="middle" fill="#111" class="k">0.5</text><line x1="110.7" y1="470.8" x2="110.7" y2="475.3" stroke="#555" stroke-width="0.9"/><text x="110.7" y="487.5" font-size="7.8" text-anchor="middle" fill="#111" class="k">1.0</text><line x1="145.4" y1="470.8" x2="145.4" y2="475.3" stroke="#555" stroke-width="0.9"/><text x="145.4" y="487.5" font-size="7.8" text-anchor="middle" fill="#111" class="k">1.5</text><text x="93.4" y="498.2" font-size="5.85" text-anchor="middle" fill="#222" class="k">Externalizing score (log<tspan font-size="3.8" dy="1.3">10</tspan><tspan dy="-1.3">-transformed)</tspan></text><text transform="translate(8.5,420.6) rotate(-90)" font-size="5.8" text-anchor="middle" fill="#222" class="k">Mean diffusivity (Z-standardized)</text><text x="19.6" y="511.9" font-size="6.8" font-weight="bold" fill="#111" class="t"><tspan font-style="italic">r</tspan><tspan font-size="5" dy="2.0">ph</tspan><tspan dy="-2.0"> = −0.20; </tspan><tspan font-style="italic">p</tspan><tspan> = 0.014</tspan></text><text x="100.0" y="511.9" font-size="6.8" font-weight="bold" fill="#111" class="t"><tspan font-style="italic">r</tspan><tspan font-size="5" dy="2.0">a</tspan><tspan dy="-2.0"> = −0.27; </tspan><tspan font-style="italic">p</tspan><tspan> = 0.041</tspan></text><rect x="162.4" y="434.2" width="7.3" height="16.4" fill="#636363"/><rect x="162.4" y="450.6" width="7.3" height="19.8" fill="#d2d2d2"/><line x1="162.4" y1="434.2" x2="169.7" y2="434.2" stroke="#555" stroke-width="0.8"/><line x1="162.4" y1="450.6" x2="169.7" y2="450.6" stroke="#555" stroke-width="0.8"/><rect x="162.4" y="370.4" width="7.3" height="100.0" fill="none" stroke="#555" stroke-width="0.8"/><text x="166.3" y="368.7" font-size="5.4" font-weight="bold" text-anchor="middle" fill="#222" textLength="9.6" lengthAdjust="spacingAndGlyphs">20%</text><text x="166.3" y="477.2" font-size="5.4" font-weight="bold" text-anchor="middle" fill="#222">0%</text></g>
<g><text x="273.5" y="359.3" font-size="5.6" font-weight="bold" text-anchor="middle" fill="#111" class="t">YSR externalizing × cortical white matter mean MD</text><text x="273.5" y="366.1" font-size="5.6" font-weight="bold" text-anchor="middle" fill="#111" class="t">at mean age 13 years</text><g fill="#8a4bc0" stroke="#6a339a" stroke-width="0.45"><circle cx="221.0" cy="390.4" r="2.05"/><circle cx="221.0" cy="400.6" r="2.05"/><circle cx="221.0" cy="403.0" r="2.05"/><circle cx="221.0" cy="405.4" r="2.05"/><circle cx="221.0" cy="412.6" r="2.05"/><circle cx="221.0" cy="420.7" r="2.05"/><circle cx="221.0" cy="429.4" r="2.05"/><circle cx="221.0" cy="431.8" r="2.05"/><circle cx="221.0" cy="437.2" r="2.05"/><circle cx="242.0" cy="391.0" r="2.05"/><circle cx="242.0" cy="396.1" r="2.05"/><circle cx="242.0" cy="405.7" r="2.05"/><circle cx="242.0" cy="411.4" r="2.05"/><circle cx="242.0" cy="413.8" r="2.05"/><circle cx="242.0" cy="416.2" r="2.05"/><circle cx="242.0" cy="418.6" r="2.05"/><circle cx="242.0" cy="424.0" r="2.05"/><circle cx="254.3" cy="391.6" r="2.05"/><circle cx="254.3" cy="399.4" r="2.05"/><circle cx="254.3" cy="408.4" r="2.05"/><circle cx="254.3" cy="410.2" r="2.05"/><circle cx="254.3" cy="412.0" r="2.05"/><circle cx="254.3" cy="415.6" r="2.05"/><circle cx="254.3" cy="417.4" r="2.05"/><circle cx="254.3" cy="419.2" r="2.05"/><circle cx="254.3" cy="424.4" r="2.05"/><circle cx="254.3" cy="430.8" r="2.05"/><circle cx="254.3" cy="438.0" r="2.05"/><circle cx="254.3" cy="443.2" r="2.05"/><circle cx="254.3" cy="445.6" r="2.05"/><circle cx="263.0" cy="397.0" r="2.05"/><circle cx="263.0" cy="400.0" r="2.05"/><circle cx="263.0" cy="404.8" r="2.05"/><circle cx="263.0" cy="409.0" r="2.05"/><circle cx="263.0" cy="411.1" r="2.05"/><circle cx="263.0" cy="413.2" r="2.05"/><circle cx="263.0" cy="418.0" r="2.05"/><circle cx="263.0" cy="420.4" r="2.05"/><circle cx="263.0" cy="422.8" r="2.05"/><circle cx="263.0" cy="425.2" r="2.05"/><circle cx="263.0" cy="427.6" r="2.05"/><circle cx="263.0" cy="439.2" r="2.05"/><circle cx="269.9" cy="395.0" r="2.05"/><circle cx="269.9" cy="406.0" r="2.05"/><circle cx="269.9" cy="413.2" r="2.05"/><circle cx="269.9" cy="417.4" r="2.05"/><circle cx="269.9" cy="419.8" r="2.05"/><circle cx="269.9" cy="423.4" r="2.05"/><circle cx="269.9" cy="425.8" r="2.05"/><circle cx="269.9" cy="431.6" r="2.05"/><circle cx="275.4" cy="386.8" r="2.05"/><circle cx="275.4" cy="395.8" r="2.05"/><circle cx="275.4" cy="404.8" r="2.05"/><circle cx="275.4" cy="417.4" r="2.05"/><circle cx="275.4" cy="426.4" r="2.05"/><circle cx="275.4" cy="428.5" r="2.05"/><circle cx="275.4" cy="430.6" r="2.05"/><circle cx="275.4" cy="434.2" r="2.05"/><circle cx="275.4" cy="436.4" r="2.05"/><circle cx="275.4" cy="438.6" r="2.05"/><circle cx="275.4" cy="440.8" r="2.05"/><circle cx="275.4" cy="445.2" r="2.05"/><circle cx="275.4" cy="451.0" r="2.05"/><circle cx="280.2" cy="396.6" r="2.05"/><circle cx="280.2" cy="402.6" r="2.05"/><circle cx="280.2" cy="410.5" r="2.05"/><circle cx="280.2" cy="419.5" r="2.05"/><circle cx="280.2" cy="423.4" r="2.05"/><circle cx="280.2" cy="424.6" r="2.05"/><circle cx="280.2" cy="429.6" r="2.05"/><circle cx="284.0" cy="374.2" r="2.05"/><circle cx="284.0" cy="400.9" r="2.05"/><circle cx="284.0" cy="408.6" r="2.05"/><circle cx="284.0" cy="411.4" r="2.05"/><circle cx="284.0" cy="415.0" r="2.05"/><circle cx="284.0" cy="416.8" r="2.05"/><circle cx="284.0" cy="422.8" r="2.05"/><circle cx="284.0" cy="425.8" r="2.05"/><circle cx="284.0" cy="428.8" r="2.05"/><circle cx="284.0" cy="431.8" r="2.05"/><circle cx="284.0" cy="437.2" r="2.05"/><circle cx="284.0" cy="442.3" r="2.05"/><circle cx="284.0" cy="460.3" r="2.05"/><circle cx="287.6" cy="406.6" r="2.05"/><circle cx="287.6" cy="409.0" r="2.05"/><circle cx="287.6" cy="411.4" r="2.05"/><circle cx="287.6" cy="420.1" r="2.05"/><circle cx="287.6" cy="424.6" r="2.05"/><circle cx="287.6" cy="427.6" r="2.05"/><circle cx="287.6" cy="430.6" r="2.05"/><circle cx="287.6" cy="440.0" r="2.05"/><circle cx="291.0" cy="415.0" r="2.05"/><circle cx="291.0" cy="422.8" r="2.05"/><circle cx="291.0" cy="425.0" r="2.05"/><circle cx="291.0" cy="427.2" r="2.05"/><circle cx="291.0" cy="429.4" r="2.05"/><circle cx="291.0" cy="446.8" r="2.05"/><circle cx="293.8" cy="393.4" r="2.05"/><circle cx="293.8" cy="398.8" r="2.05"/><circle cx="293.8" cy="412.6" r="2.05"/><circle cx="293.8" cy="427.0" r="2.05"/><circle cx="293.8" cy="429.4" r="2.05"/><circle cx="293.8" cy="431.8" r="2.05"/><circle cx="293.8" cy="434.2" r="2.05"/><circle cx="293.8" cy="449.8" r="2.05"/><circle cx="293.8" cy="452.2" r="2.05"/><circle cx="296.6" cy="392.8" r="2.05"/><circle cx="296.6" cy="409.0" r="2.05"/><circle cx="296.6" cy="418.6" r="2.05"/><circle cx="296.6" cy="430.6" r="2.05"/><circle cx="296.6" cy="452.8" r="2.05"/><circle cx="298.6" cy="386.2" r="2.05"/><circle cx="298.6" cy="396.6" r="2.05"/><circle cx="299.0" cy="440.2" r="2.05"/><circle cx="301.0" cy="378.6" r="2.05"/><circle cx="301.0" cy="415.3" r="2.05"/><circle cx="301.0" cy="419.8" r="2.05"/><circle cx="301.0" cy="428.4" r="2.05"/><circle cx="303.2" cy="420.4" r="2.05"/><circle cx="303.2" cy="434.8" r="2.05"/><circle cx="303.2" cy="461.8" r="2.05"/><circle cx="305.0" cy="407.2" r="2.05"/><circle cx="306.8" cy="433.0" r="2.05"/><circle cx="308.6" cy="405.4" r="2.05"/><circle cx="308.6" cy="407.2" r="2.05"/><circle cx="308.6" cy="431.2" r="2.05"/><circle cx="310.4" cy="411.4" r="2.05"/><circle cx="310.4" cy="425.2" r="2.05"/><circle cx="310.4" cy="428.2" r="2.05"/><circle cx="310.4" cy="431.2" r="2.05"/><circle cx="310.4" cy="438.4" r="2.05"/><circle cx="311.8" cy="399.0" r="2.05"/><circle cx="313.4" cy="435.4" r="2.05"/><circle cx="313.7" cy="440.2" r="2.05"/><circle cx="314.9" cy="424.0" r="2.05"/><circle cx="314.9" cy="436.6" r="2.05"/><circle cx="317.3" cy="407.8" r="2.05"/><circle cx="320.0" cy="411.4" r="2.05"/><circle cx="322.1" cy="413.4" r="2.05"/></g><line x1="209.3" y1="412.7" x2="337.5" y2="426.9" stroke="#111" stroke-width="1"/><rect x="209.3" y="370.5" width="128.2" height="100.3" fill="none" stroke="#555" stroke-width="0.9"/><line x1="204.3" y1="467.2" x2="209.3" y2="467.2" stroke="#555" stroke-width="0.9"/><text x="199.7" y="469.8" font-size="7.8" text-anchor="end" fill="#111" class="k">-3</text><line x1="204.3" y1="451.7" x2="209.3" y2="451.7" stroke="#555" stroke-width="0.9"/><text x="199.7" y="454.2" font-size="7.8" text-anchor="end" fill="#111" class="k">-2</text><line x1="204.3" y1="436.2" x2="209.3" y2="436.2" stroke="#555" stroke-width="0.9"/><text x="199.7" y="438.8" font-size="7.8" text-anchor="end" fill="#111" class="k">-1</text><line x1="204.3" y1="420.7" x2="209.3" y2="420.7" stroke="#555" stroke-width="0.9"/><text x="199.7" y="423.2" font-size="7.8" text-anchor="end" fill="#111" class="k">0</text><line x1="204.3" y1="405.2" x2="209.3" y2="405.2" stroke="#555" stroke-width="0.9"/><text x="199.7" y="407.8" font-size="7.8" text-anchor="end" fill="#111" class="k">1</text><line x1="204.3" y1="389.7" x2="209.3" y2="389.7" stroke="#555" stroke-width="0.9"/><text x="199.7" y="392.2" font-size="7.8" text-anchor="end" fill="#111" class="k">2</text><line x1="204.3" y1="374.2" x2="209.3" y2="374.2" stroke="#555" stroke-width="0.9"/><text x="199.7" y="376.8" font-size="7.8" text-anchor="end" fill="#111" class="k">3</text><line x1="221.3" y1="470.8" x2="221.3" y2="475.3" stroke="#555" stroke-width="0.9"/><text x="221.3" y="487.5" font-size="7.8" text-anchor="middle" fill="#111" class="k">0.0</text><line x1="256.0" y1="470.8" x2="256.0" y2="475.3" stroke="#555" stroke-width="0.9"/><text x="256.0" y="487.5" font-size="7.8" text-anchor="middle" fill="#111" class="k">0.5</text><line x1="290.7" y1="470.8" x2="290.7" y2="475.3" stroke="#555" stroke-width="0.9"/><text x="290.7" y="487.5" font-size="7.8" text-anchor="middle" fill="#111" class="k">1.0</text><line x1="325.4" y1="470.8" x2="325.4" y2="475.3" stroke="#555" stroke-width="0.9"/><text x="325.4" y="487.5" font-size="7.8" text-anchor="middle" fill="#111" class="k">1.5</text><text x="273.4" y="498.2" font-size="5.85" text-anchor="middle" fill="#222" class="k">Externalizing score (log<tspan font-size="3.8" dy="1.3">10</tspan><tspan dy="-1.3">-transformed)</tspan></text><text transform="translate(188.5,420.6) rotate(-90)" font-size="5.8" text-anchor="middle" fill="#222" class="k">Mean diffusivity (Z-standardized)</text><text x="199.6" y="511.9" font-size="6.8" font-weight="bold" fill="#111" class="t"><tspan font-style="italic">r</tspan><tspan font-size="5" dy="2.0">ph</tspan><tspan dy="-2.0"> = −0.20; </tspan><tspan font-style="italic">p</tspan><tspan> = 0.016</tspan></text><text x="280.0" y="511.9" font-size="6.8" font-weight="bold" fill="#111" class="t"><tspan font-style="italic">r</tspan><tspan font-size="5" dy="2.0">a</tspan><tspan dy="-2.0"> = −0.33; </tspan><tspan font-style="italic">p</tspan><tspan> = 0.031</tspan></text><rect x="342.4" y="416.0" width="7.3" height="34.6" fill="#636363"/><rect x="342.4" y="450.6" width="7.3" height="19.8" fill="#d2d2d2"/><line x1="342.4" y1="416.0" x2="349.7" y2="416.0" stroke="#555" stroke-width="0.8"/><line x1="342.4" y1="450.6" x2="349.7" y2="450.6" stroke="#555" stroke-width="0.8"/><rect x="342.4" y="370.4" width="7.3" height="100.0" fill="none" stroke="#555" stroke-width="0.8"/><text x="346.3" y="368.7" font-size="5.4" font-weight="bold" text-anchor="middle" fill="#222" textLength="9.6" lengthAdjust="spacingAndGlyphs">20%</text><text x="346.3" y="477.2" font-size="5.4" font-weight="bold" text-anchor="middle" fill="#222">0%</text></g>
<g><text x="453.0" y="359.3" font-size="5.6" font-weight="bold" text-anchor="middle" fill="#111" class="t">YSR externalizing × cortical white matter mean MD</text><text x="453.0" y="366.1" font-size="5.6" font-weight="bold" text-anchor="middle" fill="#111" class="t">at mean age 18 years</text><g fill="#2076b5" stroke="#1a6199" stroke-width="0.45"><circle cx="401.0" cy="386.8" r="2.05"/><circle cx="401.0" cy="400.0" r="2.05"/><circle cx="401.0" cy="417.2" r="2.05"/><circle cx="401.0" cy="422.8" r="2.05"/><circle cx="401.0" cy="439.6" r="2.05"/><circle cx="422.0" cy="376.0" r="2.05"/><circle cx="422.0" cy="400.0" r="2.05"/><circle cx="422.0" cy="407.8" r="2.05"/><circle cx="422.0" cy="415.0" r="2.05"/><circle cx="422.0" cy="416.2" r="2.05"/><circle cx="422.0" cy="420.4" r="2.05"/><circle cx="422.0" cy="423.4" r="2.05"/><circle cx="422.0" cy="426.4" r="2.05"/><circle cx="422.0" cy="429.4" r="2.05"/><circle cx="422.0" cy="432.4" r="2.05"/><circle cx="434.3" cy="385.6" r="2.05"/><circle cx="434.3" cy="403.8" r="2.05"/><circle cx="434.3" cy="406.0" r="2.05"/><circle cx="434.3" cy="409.0" r="2.05"/><circle cx="434.3" cy="412.0" r="2.05"/><circle cx="434.3" cy="415.0" r="2.05"/><circle cx="434.3" cy="418.0" r="2.05"/><circle cx="434.3" cy="421.0" r="2.05"/><circle cx="434.3" cy="424.0" r="2.05"/><circle cx="434.3" cy="432.8" r="2.05"/><circle cx="443.0" cy="397.6" r="2.05"/><circle cx="443.0" cy="407.8" r="2.05"/><circle cx="443.0" cy="410.4" r="2.05"/><circle cx="443.0" cy="412.9" r="2.05"/><circle cx="443.0" cy="415.4" r="2.05"/><circle cx="443.0" cy="418.0" r="2.05"/><circle cx="443.0" cy="422.8" r="2.05"/><circle cx="443.0" cy="430.6" r="2.05"/><circle cx="443.0" cy="433.6" r="2.05"/><circle cx="443.0" cy="436.6" r="2.05"/><circle cx="443.0" cy="439.6" r="2.05"/><circle cx="449.9" cy="397.3" r="2.05"/><circle cx="449.9" cy="404.5" r="2.05"/><circle cx="449.9" cy="411.4" r="2.05"/><circle cx="449.9" cy="414.3" r="2.05"/><circle cx="449.9" cy="417.2" r="2.05"/><circle cx="449.9" cy="420.1" r="2.05"/><circle cx="449.9" cy="423.1" r="2.05"/><circle cx="449.9" cy="426.0" r="2.05"/><circle cx="449.9" cy="428.9" r="2.05"/><circle cx="449.9" cy="431.8" r="2.05"/><circle cx="449.9" cy="438.0" r="2.05"/><circle cx="449.9" cy="445.0" r="2.05"/><circle cx="455.4" cy="392.2" r="2.05"/><circle cx="455.4" cy="394.0" r="2.05"/><circle cx="455.4" cy="395.8" r="2.05"/><circle cx="455.4" cy="401.2" r="2.05"/><circle cx="455.4" cy="404.1" r="2.05"/><circle cx="455.4" cy="407.1" r="2.05"/><circle cx="455.4" cy="410.0" r="2.05"/><circle cx="455.4" cy="413.0" r="2.05"/><circle cx="455.4" cy="415.9" r="2.05"/><circle cx="455.4" cy="418.8" r="2.05"/><circle cx="455.4" cy="421.8" r="2.05"/><circle cx="455.4" cy="424.7" r="2.05"/><circle cx="455.4" cy="427.7" r="2.05"/><circle cx="455.4" cy="430.6" r="2.05"/><circle cx="455.4" cy="448.6" r="2.05"/><circle cx="460.2" cy="395.8" r="2.05"/><circle cx="460.2" cy="403.0" r="2.05"/><circle cx="460.2" cy="405.4" r="2.05"/><circle cx="460.2" cy="410.8" r="2.05"/><circle cx="460.2" cy="414.0" r="2.05"/><circle cx="460.2" cy="417.1" r="2.05"/><circle cx="460.2" cy="420.3" r="2.05"/><circle cx="460.2" cy="423.5" r="2.05"/><circle cx="460.2" cy="426.7" r="2.05"/><circle cx="460.2" cy="429.8" r="2.05"/><circle cx="460.2" cy="433.0" r="2.05"/><circle cx="460.2" cy="442.8" r="2.05"/><circle cx="460.2" cy="453.6" r="2.05"/><circle cx="460.2" cy="461.8" r="2.05"/><circle cx="464.0" cy="386.2" r="2.05"/><circle cx="464.0" cy="397.8" r="2.05"/><circle cx="464.0" cy="405.4" r="2.05"/><circle cx="464.0" cy="408.4" r="2.05"/><circle cx="464.0" cy="411.4" r="2.05"/><circle cx="464.0" cy="414.4" r="2.05"/><circle cx="464.0" cy="417.4" r="2.05"/><circle cx="464.0" cy="426.4" r="2.05"/><circle cx="464.0" cy="429.2" r="2.05"/><circle cx="464.0" cy="432.0" r="2.05"/><circle cx="464.0" cy="434.8" r="2.05"/><circle cx="464.0" cy="440.2" r="2.05"/><circle cx="467.6" cy="407.2" r="2.05"/><circle cx="467.6" cy="410.0" r="2.05"/><circle cx="467.6" cy="412.8" r="2.05"/><circle cx="467.6" cy="415.6" r="2.05"/><circle cx="467.6" cy="422.2" r="2.05"/><circle cx="467.6" cy="424.9" r="2.05"/><circle cx="467.6" cy="427.6" r="2.05"/><circle cx="467.6" cy="430.3" r="2.05"/><circle cx="467.6" cy="433.0" r="2.05"/><circle cx="470.6" cy="408.4" r="2.05"/><circle cx="470.6" cy="411.4" r="2.05"/><circle cx="470.6" cy="414.4" r="2.05"/><circle cx="470.6" cy="424.0" r="2.05"/><circle cx="470.6" cy="426.1" r="2.05"/><circle cx="470.6" cy="428.2" r="2.05"/><circle cx="470.6" cy="436.6" r="2.05"/><circle cx="470.6" cy="438.4" r="2.05"/><circle cx="470.6" cy="440.2" r="2.05"/><circle cx="471.2" cy="443.8" r="2.05"/><circle cx="473.8" cy="410.2" r="2.05"/><circle cx="473.8" cy="412.9" r="2.05"/><circle cx="473.8" cy="415.6" r="2.05"/><circle cx="473.8" cy="427.0" r="2.05"/><circle cx="473.8" cy="434.2" r="2.05"/><circle cx="473.8" cy="436.6" r="2.05"/><circle cx="473.8" cy="439.0" r="2.05"/><circle cx="473.8" cy="443.5" r="2.05"/><circle cx="473.8" cy="445.4" r="2.05"/><circle cx="473.8" cy="447.4" r="2.05"/><circle cx="476.6" cy="379.4" r="2.05"/><circle cx="476.6" cy="402.4" r="2.05"/><circle cx="476.6" cy="419.8" r="2.05"/><circle cx="476.6" cy="421.0" r="2.05"/><circle cx="476.6" cy="449.2" r="2.05"/><circle cx="479.0" cy="399.4" r="2.05"/><circle cx="479.0" cy="427.0" r="2.05"/><circle cx="479.0" cy="428.8" r="2.05"/><circle cx="479.0" cy="430.6" r="2.05"/><circle cx="479.0" cy="449.2" r="2.05"/><circle cx="481.0" cy="389.8" r="2.05"/><circle cx="481.0" cy="410.8" r="2.05"/><circle cx="481.0" cy="413.2" r="2.05"/><circle cx="481.0" cy="415.6" r="2.05"/><circle cx="483.2" cy="416.2" r="2.05"/><circle cx="483.2" cy="418.0" r="2.05"/><circle cx="483.2" cy="419.8" r="2.05"/><circle cx="483.2" cy="425.8" r="2.05"/><circle cx="483.2" cy="434.2" r="2.05"/><circle cx="483.2" cy="437.2" r="2.05"/><circle cx="483.2" cy="443.8" r="2.05"/><circle cx="483.2" cy="459.4" r="2.05"/><circle cx="485.0" cy="406.6" r="2.05"/><circle cx="485.0" cy="409.0" r="2.05"/><circle cx="485.0" cy="411.4" r="2.05"/><circle cx="485.0" cy="435.4" r="2.05"/><circle cx="485.0" cy="437.8" r="2.05"/><circle cx="486.8" cy="415.6" r="2.05"/><circle cx="486.8" cy="416.2" r="2.05"/><circle cx="486.8" cy="435.4" r="2.05"/><circle cx="488.6" cy="410.2" r="2.05"/><circle cx="488.6" cy="429.4" r="2.05"/><circle cx="488.6" cy="431.8" r="2.05"/><circle cx="488.6" cy="441.1" r="2.05"/><circle cx="489.2" cy="425.2" r="2.05"/><circle cx="490.4" cy="391.0" r="2.05"/><circle cx="490.4" cy="396.1" r="2.05"/><circle cx="490.4" cy="430.6" r="2.05"/><circle cx="491.6" cy="413.8" r="2.05"/><circle cx="493.7" cy="399.7" r="2.05"/><circle cx="493.7" cy="436.0" r="2.05"/><circle cx="494.9" cy="404.8" r="2.05"/><circle cx="497.6" cy="419.8" r="2.05"/><circle cx="500.0" cy="443.5" r="2.05"/><circle cx="502.1" cy="440.0" r="2.05"/></g><line x1="389.3" y1="411.2" x2="517.5" y2="427.2" stroke="#111" stroke-width="1"/><rect x="389.3" y="370.5" width="128.2" height="100.3" fill="none" stroke="#555" stroke-width="0.9"/><line x1="384.3" y1="467.2" x2="389.3" y2="467.2" stroke="#555" stroke-width="0.9"/><text x="379.7" y="469.8" font-size="7.8" text-anchor="end" fill="#111" class="k">-3</text><line x1="384.3" y1="451.7" x2="389.3" y2="451.7" stroke="#555" stroke-width="0.9"/><text x="379.7" y="454.2" font-size="7.8" text-anchor="end" fill="#111" class="k">-2</text><line x1="384.3" y1="436.2" x2="389.3" y2="436.2" stroke="#555" stroke-width="0.9"/><text x="379.7" y="438.8" font-size="7.8" text-anchor="end" fill="#111" class="k">-1</text><line x1="384.3" y1="420.7" x2="389.3" y2="420.7" stroke="#555" stroke-width="0.9"/><text x="379.7" y="423.2" font-size="7.8" text-anchor="end" fill="#111" class="k">0</text><line x1="384.3" y1="405.2" x2="389.3" y2="405.2" stroke="#555" stroke-width="0.9"/><text x="379.7" y="407.8" font-size="7.8" text-anchor="end" fill="#111" class="k">1</text><line x1="384.3" y1="389.7" x2="389.3" y2="389.7" stroke="#555" stroke-width="0.9"/><text x="379.7" y="392.2" font-size="7.8" text-anchor="end" fill="#111" class="k">2</text><line x1="384.3" y1="374.2" x2="389.3" y2="374.2" stroke="#555" stroke-width="0.9"/><text x="379.7" y="376.8" font-size="7.8" text-anchor="end" fill="#111" class="k">3</text><line x1="401.3" y1="470.8" x2="401.3" y2="475.3" stroke="#555" stroke-width="0.9"/><text x="401.3" y="487.5" font-size="7.8" text-anchor="middle" fill="#111" class="k">0.0</text><line x1="436.0" y1="470.8" x2="436.0" y2="475.3" stroke="#555" stroke-width="0.9"/><text x="436.0" y="487.5" font-size="7.8" text-anchor="middle" fill="#111" class="k">0.5</text><line x1="470.7" y1="470.8" x2="470.7" y2="475.3" stroke="#555" stroke-width="0.9"/><text x="470.7" y="487.5" font-size="7.8" text-anchor="middle" fill="#111" class="k">1.0</text><line x1="505.4" y1="470.8" x2="505.4" y2="475.3" stroke="#555" stroke-width="0.9"/><text x="505.4" y="487.5" font-size="7.8" text-anchor="middle" fill="#111" class="k">1.5</text><text x="453.4" y="498.2" font-size="5.85" text-anchor="middle" fill="#222" class="k">Externalizing score (log<tspan font-size="3.8" dy="1.3">10</tspan><tspan dy="-1.3">-transformed)</tspan></text><text transform="translate(368.5,420.6) rotate(-90)" font-size="5.8" text-anchor="middle" fill="#222" class="k">Mean diffusivity (Z-standardized)</text><text x="379.6" y="511.9" font-size="6.8" font-weight="bold" fill="#111" class="t"><tspan font-style="italic">r</tspan><tspan font-size="5" dy="2.0">ph</tspan><tspan dy="-2.0"> = −0.20; </tspan><tspan font-style="italic">p</tspan><tspan> = 0.010</tspan></text><text x="460.0" y="511.9" font-size="6.8" font-weight="normal" fill="#111" class="k"><tspan font-style="italic">r</tspan><tspan font-size="5" dy="2.0">a</tspan><tspan dy="-2.0"> = −0.56; </tspan><tspan font-style="italic">p</tspan><tspan> = 0.051 [n.s.]</tspan></text><rect x="522.4" y="450.2" width="7.3" height="20.2" fill="#d2d2d2"/><line x1="522.4" y1="450.2" x2="529.7" y2="450.2" stroke="#555" stroke-width="0.8"/><rect x="522.4" y="370.4" width="7.3" height="100.0" fill="none" stroke="#555" stroke-width="0.8"/><text x="526.3" y="368.7" font-size="5.4" font-weight="bold" text-anchor="middle" fill="#222" textLength="9.6" lengthAdjust="spacingAndGlyphs">20%</text><text x="526.3" y="477.2" font-size="5.4" font-weight="bold" text-anchor="middle" fill="#222">0%</text></g>
<text x="262.4" y="532.4" font-size="6.7" font-weight="bold" text-anchor="middle" fill="#111">Legend</text><line x1="19.7" y1="541.1" x2="33.8" y2="541.1" stroke="#111" stroke-width="1.3"/><text x="40.1" y="543.6" font-size="6.2" fill="#111">Linear regression line</text><circle cx="115.1" cy="541.3" r="2.8" fill="#e9321a"/><text x="123.1" y="543.6" font-size="6.2" fill="#111">Mean age 10 years</text><circle cx="197.9" cy="541.3" r="2.8" fill="#8a4bc0"/><text x="206.2" y="543.6" font-size="6.2" fill="#111">Mean age 13 years</text><circle cx="281.4" cy="541.3" r="2.8" fill="#2076b5"/><text x="290" y="543.6" font-size="6.2" fill="#111">Mean age 18 years</text><rect x="361.6" y="539.6" width="6.6" height="6.2" fill="#d2d2d2" stroke="#777" stroke-width="0.9"/><text x="373.7" y="544.2" font-size="6.2" fill="#111">Phenotypic variance</text><rect x="445.0" y="539.6" width="6.6" height="6.2" fill="#636363" stroke="#555" stroke-width="0.9"/><text x="457" y="544.2" font-size="6.2" fill="#111">Genetic variance</text>
</svg></body></html>
